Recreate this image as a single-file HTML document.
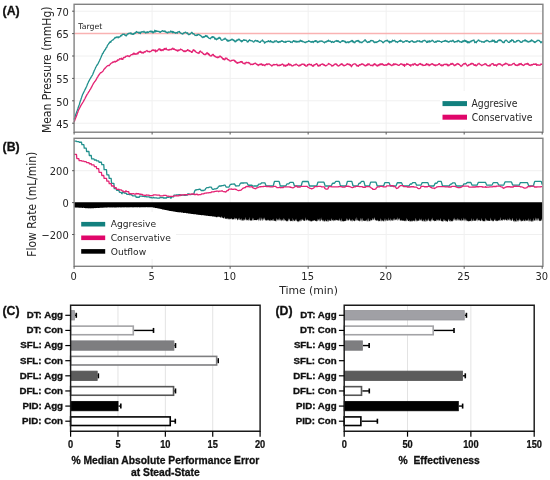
<!DOCTYPE html>
<html><head><meta charset="utf-8"><title>Figure</title>
<style>html,body{margin:0;padding:0;background:#fff;}body{width:550px;height:480px;overflow:hidden;}svg{display:block;}</style>
</head><body>
<svg width="550" height="480" viewBox="0 0 550 480">
<rect width="550" height="480" fill="#fff"/>
<g>
<line x1="74.1" x2="542.2" y1="123.20" y2="123.20" stroke="#f0f0f0" stroke-width="1"/>
<line x1="74.1" x2="542.2" y1="100.80" y2="100.80" stroke="#f0f0f0" stroke-width="1"/>
<line x1="74.1" x2="542.2" y1="78.40" y2="78.40" stroke="#f0f0f0" stroke-width="1"/>
<line x1="74.1" x2="542.2" y1="56.00" y2="56.00" stroke="#f0f0f0" stroke-width="1"/>
<line x1="74.1" x2="542.2" y1="11.20" y2="11.20" stroke="#f0f0f0" stroke-width="1"/>
<line x1="152.12" x2="152.12" y1="4.3" y2="132.2" stroke="#f0f0f0" stroke-width="1"/>
<line x1="230.13" x2="230.13" y1="4.3" y2="132.2" stroke="#f0f0f0" stroke-width="1"/>
<line x1="308.15" x2="308.15" y1="4.3" y2="132.2" stroke="#f0f0f0" stroke-width="1"/>
<line x1="386.17" x2="386.17" y1="4.3" y2="132.2" stroke="#f0f0f0" stroke-width="1"/>
<line x1="464.18" x2="464.18" y1="4.3" y2="132.2" stroke="#f0f0f0" stroke-width="1"/>
<line x1="74.1" x2="542.2" y1="33.60" y2="33.60" stroke="#f9b2b2" stroke-width="1.5"/>
<text x="78.2" y="29.2" font-family="DejaVu Sans" font-size="7.8" fill="#1a1a1a">Target</text>
<path d="M74.10 119.58L74.49 118.25L74.88 117.19L75.27 116.00L75.66 114.72L76.05 113.70L76.44 112.61L76.83 111.50L77.22 110.52L77.61 109.44L78.00 108.29L78.39 107.04L78.78 105.94L79.17 104.88L79.56 103.62L79.95 102.30L80.34 100.98L80.73 100.06L81.12 98.77L81.51 97.67L81.90 96.45L82.29 95.39L82.68 94.27L83.07 93.66L83.46 92.91L83.85 92.09L84.24 91.27L84.63 90.51L85.02 89.57L85.41 88.84L85.80 88.22L86.19 87.23L86.58 86.49L86.97 85.52L87.36 84.37L87.75 83.50L88.14 82.80L88.53 81.71L88.92 81.15L89.31 80.42L89.70 79.53L90.09 78.89L90.48 78.29L90.87 77.59L91.26 76.92L91.65 76.30L92.04 75.60L92.43 75.07L92.82 74.21L93.21 73.10L93.60 72.36L93.99 71.32L94.38 70.27L94.77 69.62L95.16 68.68L95.55 67.63L95.94 67.10L96.33 66.25L96.72 65.55L97.11 65.00L97.50 64.49L97.90 63.96L98.29 63.28L98.68 62.28L99.07 61.53L99.46 60.83L99.85 59.78L100.24 59.09L100.63 57.98L101.02 57.22L101.41 56.22L101.80 55.35L102.19 54.55L102.58 53.29L102.97 53.37L103.36 52.47L103.75 51.64L104.14 51.04L104.53 50.66L104.92 49.62L105.31 49.58L105.70 48.91L106.09 47.76L106.48 47.58L106.87 47.18L107.26 45.78L107.65 45.20L108.04 44.54L108.43 44.14L108.82 43.39L109.21 43.18L109.60 42.18L109.99 42.09L110.38 41.80L110.77 42.30L111.16 41.17L111.55 40.72L111.94 40.47L112.33 40.15L112.72 39.99L113.11 39.89L113.50 39.31L113.89 39.02L114.28 38.59L114.67 38.24L115.06 37.36L115.45 37.91L115.84 37.41L116.23 37.48L116.62 37.00L117.01 36.86L117.40 36.98L117.79 37.17L118.18 37.89L118.57 36.84L118.96 37.16L119.35 37.15L119.74 36.80L120.13 36.64L120.52 35.95L120.91 35.41L121.30 35.38L121.69 35.92L122.08 34.74L122.47 34.33L122.86 34.19L123.25 34.30L123.64 34.24L124.03 34.14L124.42 34.78L124.81 34.29L125.20 35.63L125.59 35.46L125.98 35.35L126.37 35.79L126.76 35.17L127.15 34.19L127.54 34.01L127.93 34.11L128.32 33.35L128.71 33.69L129.10 33.56L129.49 33.13L129.88 33.18L130.27 32.91L130.66 33.79L131.05 33.03L131.44 33.79L131.83 33.53L132.22 34.43L132.61 34.18L133.00 33.99L133.39 33.65L133.78 34.32L134.17 33.15L134.56 33.20L134.95 33.39L135.34 32.46L135.73 32.80L136.12 32.16L136.51 31.47L136.90 31.91L137.29 32.32L137.68 32.31L138.07 32.10L138.46 32.42L138.85 33.14L139.24 33.16L139.63 32.66L140.02 32.00L140.41 33.69L140.80 32.31L141.19 32.44L141.58 31.83L141.97 31.73L142.36 31.75L142.75 32.01L143.14 32.09L143.53 32.21L143.92 31.22L144.31 31.92L144.71 32.25L145.10 32.26L145.49 33.00L145.88 32.46L146.27 32.07L146.66 32.08L147.05 32.90L147.44 31.79L147.83 32.33L148.22 32.57L148.61 32.01L149.00 31.73L149.39 31.39L149.78 31.68L150.17 31.83L150.56 31.46L150.95 30.81L151.34 31.97L151.73 31.64L152.12 32.09L152.51 31.32L152.90 32.94L153.29 31.78L153.68 32.53L154.07 32.11L154.46 31.83L154.85 30.28L155.24 31.58L155.63 31.85L156.02 30.60L156.41 31.35L156.80 31.17L157.19 31.16L157.58 31.25L157.97 31.41L158.36 31.40L158.75 31.52L159.14 31.48L159.53 32.06L159.92 32.23L160.31 32.32L160.70 31.63L161.09 31.72L161.48 31.36L161.87 31.21L162.26 30.74L162.65 31.06L163.04 30.82L163.43 31.46L163.82 31.35L164.21 31.12L164.60 31.54L164.99 30.90L165.38 31.83L165.77 31.58L166.16 32.59L166.55 32.39L166.94 32.26L167.33 32.32L167.72 32.98L168.11 32.33L168.50 31.97L168.89 32.08L169.28 32.25L169.67 32.10L170.06 32.28L170.45 31.41L170.84 31.02L171.23 31.66L171.62 32.10L172.01 31.51L172.40 31.51L172.79 32.89L173.18 32.18L173.57 31.65L173.96 32.28L174.35 32.57L174.74 32.74L175.13 32.53L175.52 33.23L175.91 33.05L176.30 32.59L176.69 32.90L177.08 32.36L177.47 33.08L177.86 31.93L178.25 31.75L178.64 31.93L179.03 31.90L179.42 31.44L179.81 32.58L180.20 32.52L180.59 33.13L180.98 33.09L181.37 33.48L181.76 33.36L182.15 33.71L182.54 34.04L182.93 34.05L183.32 32.87L183.71 33.18L184.10 33.06L184.49 32.70L184.88 32.65L185.27 32.20L185.66 32.24L186.05 32.70L186.44 32.85L186.83 33.10L187.22 33.31L187.61 32.76L188.00 33.91L188.39 34.66L188.78 34.44L189.17 34.51L189.56 34.13L189.95 34.43L190.34 33.54L190.73 33.43L191.12 33.01L191.52 32.56L191.91 32.27L192.30 32.83L192.69 33.81L193.08 33.71L193.47 33.90L193.86 33.62L194.25 34.53L194.64 34.77L195.03 35.47L195.42 35.31L195.81 35.27L196.20 35.66L196.59 35.10L196.98 34.81L197.37 35.23L197.76 34.60L198.15 34.38L198.54 34.68L198.93 34.69L199.32 34.89L199.71 35.13L200.10 35.06L200.49 35.55L200.88 35.75L201.27 36.18L201.66 36.83L202.05 36.94L202.44 36.91L202.83 37.67L203.22 37.51L203.61 36.55L204.00 36.72L204.39 37.06L204.78 36.36L205.17 36.54L205.56 35.51L205.95 36.36L206.34 36.16L206.73 35.79L207.12 36.89L207.51 36.28L207.90 37.34L208.29 37.38L208.68 38.03L209.07 38.25L209.46 38.31L209.85 38.49L210.24 38.78L210.63 37.95L211.02 37.99L211.41 37.39L211.80 37.00L212.19 37.63L212.58 36.58L212.97 36.55L213.36 37.30L213.75 37.01L214.14 37.13L214.53 38.35L214.92 39.20L215.31 39.07L215.70 38.20L216.09 39.25L216.48 39.69L216.87 39.07L217.26 39.24L217.65 38.66L218.04 38.07L218.43 38.67L218.82 37.65L219.21 37.31L219.60 38.17L219.99 38.39L220.38 38.04L220.77 39.37L221.16 39.93L221.55 40.25L221.94 40.12L222.33 40.05L222.72 40.08L223.11 39.64L223.50 39.08L223.89 39.04L224.28 39.24L224.67 38.84L225.06 38.14L225.45 39.08L225.84 38.96L226.23 39.43L226.62 39.88L227.01 40.60L227.40 41.02L227.79 39.85L228.18 40.48L228.57 41.18L228.96 40.88L229.35 40.52L229.74 40.53L230.13 40.07L230.52 40.26L230.91 39.90L231.30 39.27L231.69 39.37L232.08 39.99L232.47 39.26L232.86 39.48L233.25 39.95L233.64 40.69L234.03 40.22L234.42 40.73L234.81 41.59L235.20 41.93L235.59 41.04L235.98 41.55L236.37 40.60L236.76 40.01L237.15 40.52L237.54 40.21L237.94 39.71L238.33 39.27L238.72 39.87L239.11 39.11L239.50 39.46L239.89 39.85L240.28 40.80L240.67 40.55L241.06 40.91L241.45 41.88L241.84 40.71L242.23 41.46L242.62 40.75L243.01 40.71L243.40 40.10L243.79 39.64L244.18 40.11L244.57 40.37L244.96 39.97L245.35 40.35L245.74 40.30L246.13 40.25L246.52 40.72L246.91 40.78L247.30 41.96L247.69 41.61L248.08 41.93L248.47 41.15L248.86 40.41L249.25 40.59L249.64 39.72L250.03 40.36L250.42 40.68L250.81 40.60L251.20 40.80L251.59 40.77L251.98 40.83L252.37 40.92L252.76 41.38L253.15 41.76L253.54 42.06L253.93 42.00L254.32 41.27L254.71 40.84L255.10 40.60L255.49 40.36L255.88 40.46L256.27 41.15L256.66 40.98L257.05 41.12L257.44 40.57L257.83 41.53L258.22 41.44L258.61 41.26L259.00 41.92L259.39 42.33L259.78 42.28L260.17 42.40L260.56 41.64L260.95 41.15L261.34 41.10L261.73 40.72L262.12 40.50L262.51 40.00L262.90 41.22L263.29 41.18L263.68 41.38L264.07 41.57L264.46 43.04L264.85 42.41L265.24 42.31L265.63 42.55L266.02 41.64L266.41 41.59L266.80 41.53L267.19 41.78L267.58 41.43L267.97 41.31L268.36 40.70L268.75 41.31L269.14 41.66L269.53 41.77L269.92 41.56L270.31 40.88L270.70 40.70L271.09 42.13L271.48 41.74L271.87 41.73L272.26 41.79L272.65 42.18L273.04 42.55L273.43 42.12L273.82 42.21L274.21 41.36L274.60 41.04L274.99 41.83L275.38 41.04L275.77 40.93L276.16 40.74L276.55 40.79L276.94 41.30L277.33 42.12L277.72 42.06L278.11 41.77L278.50 42.46L278.89 42.20L279.28 41.47L279.67 41.65L280.06 42.11L280.45 41.70L280.84 41.28L281.23 41.42L281.62 40.81L282.01 40.64L282.40 41.31L282.79 41.28L283.18 41.28L283.57 42.02L283.96 41.77L284.35 42.20L284.75 41.93L285.14 42.39L285.53 42.44L285.92 41.26L286.31 42.04L286.70 41.63L287.09 41.48L287.48 41.27L287.87 41.43L288.26 41.17L288.65 41.46L289.04 41.47L289.43 41.30L289.82 41.24L290.21 41.62L290.60 42.31L290.99 42.03L291.38 42.21L291.77 42.13L292.16 42.55L292.55 41.57L292.94 41.58L293.33 40.66L293.72 40.89L294.11 41.50L294.50 41.63L294.89 40.82L295.28 41.85L295.67 41.51L296.06 41.89L296.45 41.23L296.84 42.13L297.23 41.59L297.62 41.50L298.01 41.97L298.40 41.90L298.79 41.21L299.18 41.65L299.57 41.78L299.96 40.84L300.35 40.20L300.74 41.10L301.13 40.64L301.52 41.31L301.91 40.87L302.30 41.71L302.69 41.26L303.08 41.50L303.47 41.86L303.86 41.89L304.25 42.10L304.64 42.44L305.03 42.50L305.42 42.16L305.81 42.53L306.20 41.98L306.59 41.89L306.98 41.68L307.37 41.80L307.76 41.54L308.15 41.44L308.54 40.72L308.93 41.31L309.32 41.19L309.71 41.26L310.10 41.57L310.49 42.00L310.88 42.12L311.27 41.60L311.66 42.30L312.05 41.83L312.44 41.41L312.83 41.58L313.22 42.63L313.61 41.51L314.00 41.31L314.39 41.09L314.78 41.65L315.17 40.70L315.56 41.40L315.95 40.80L316.34 41.17L316.73 40.83L317.12 42.03L317.51 42.56L317.90 41.79L318.29 41.89L318.68 42.14L319.07 41.13L319.46 41.15L319.85 41.67L320.24 41.08L320.63 41.10L321.02 40.95L321.41 40.94L321.80 41.35L322.19 41.32L322.58 41.23L322.97 41.79L323.36 42.10L323.75 42.29L324.14 42.28L324.53 42.87L324.92 41.88L325.31 42.15L325.70 41.66L326.09 42.17L326.48 41.24L326.87 41.29L327.26 41.53L327.65 40.80L328.04 41.11L328.43 40.19L328.82 40.70L329.21 41.28L329.60 41.06L329.99 41.23L330.38 41.00L330.77 41.70L331.16 41.65L331.56 42.45L331.95 41.78L332.34 41.49L332.73 42.07L333.12 42.32L333.51 42.24L333.90 42.36L334.29 41.68L334.68 41.70L335.07 41.04L335.46 41.18L335.85 41.11L336.24 40.53L336.63 41.26L337.02 40.84L337.41 41.52L337.80 40.59L338.19 40.96L338.58 41.54L338.97 41.49L339.36 42.06L339.75 42.18L340.14 42.52L340.53 42.45L340.92 41.79L341.31 41.51L341.70 41.29L342.09 40.66L342.48 40.74L342.87 41.28L343.26 40.75L343.65 40.99L344.04 41.04L344.43 41.74L344.82 41.20L345.21 41.34L345.60 42.59L345.99 42.04L346.38 42.10L346.77 42.79L347.16 42.39L347.55 41.88L347.94 42.12L348.33 41.85L348.72 42.77L349.11 42.39L349.50 41.81L349.89 41.59L350.28 41.72L350.67 41.22L351.06 41.08L351.45 40.83L351.84 40.49L352.23 41.86L352.62 40.51L353.01 41.63L353.40 42.12L353.79 41.79L354.18 42.76L354.57 42.31L354.96 42.57L355.35 41.83L355.74 41.50L356.13 40.79L356.52 41.22L356.91 40.97L357.30 40.70L357.69 41.11L358.08 40.34L358.47 40.73L358.86 41.73L359.25 41.17L359.64 41.51L360.03 42.68L360.42 42.12L360.81 42.03L361.20 42.15L361.59 42.74L361.98 42.59L362.37 42.07L362.76 41.89L363.15 41.45L363.54 41.21L363.93 40.81L364.32 40.84L364.71 40.57L365.10 39.59L365.49 40.96L365.88 40.78L366.27 41.23L366.66 41.43L367.05 42.26L367.44 42.16L367.83 42.50L368.22 42.19L368.61 41.65L369.00 42.07L369.39 41.76L369.78 42.04L370.17 41.23L370.56 40.46L370.95 40.80L371.34 40.80L371.73 40.44L372.12 40.58L372.51 40.77L372.90 41.11L373.29 40.88L373.68 42.10L374.07 42.00L374.46 42.46L374.85 42.01L375.24 42.56L375.63 41.97L376.02 42.24L376.41 42.26L376.80 42.55L377.19 41.59L377.58 41.54L377.97 41.58L378.37 41.45L378.76 41.01L379.15 41.12L379.54 40.19L379.93 40.46L380.32 40.75L380.71 40.90L381.10 41.00L381.49 41.40L381.88 41.36L382.27 41.79L382.66 42.49L383.05 42.79L383.44 42.41L383.83 42.22L384.22 41.64L384.61 41.36L385.00 41.21L385.39 40.79L385.78 40.78L386.17 40.40L386.56 40.88L386.95 40.59L387.34 40.28L387.73 40.60L388.12 41.43L388.51 41.71L388.90 42.05L389.29 41.22L389.68 42.82L390.07 42.36L390.46 41.67L390.85 41.88L391.24 41.59L391.63 41.97L392.02 41.24L392.41 40.23L392.80 41.05L393.19 40.71L393.58 40.81L393.97 40.62L394.36 40.54L394.75 40.29L395.14 41.30L395.53 41.91L395.92 41.65L396.31 41.83L396.70 41.67L397.09 42.00L397.48 42.44L397.87 41.85L398.26 41.56L398.65 41.55L399.04 41.31L399.43 40.64L399.82 40.96L400.21 41.36L400.60 40.19L400.99 41.16L401.38 40.96L401.77 41.04L402.16 41.45L402.55 41.70L402.94 42.45L403.33 41.94L403.72 42.16L404.11 41.95L404.50 41.51L404.89 41.26L405.28 41.17L405.67 40.77L406.06 40.94L406.45 41.38L406.84 40.65L407.23 40.76L407.62 40.89L408.01 41.35L408.40 41.85L408.79 41.63L409.18 41.69L409.57 42.42L409.96 41.66L410.35 41.73L410.74 41.50L411.13 40.81L411.52 40.87L411.91 40.98L412.30 40.79L412.69 41.66L413.08 41.51L413.47 41.84L413.86 42.27L414.25 41.80L414.64 41.85L415.03 42.26L415.42 42.11L415.81 41.70L416.20 41.46L416.59 41.88L416.98 41.11L417.37 40.78L417.76 40.99L418.15 41.13L418.54 41.09L418.93 40.96L419.32 41.46L419.71 40.71L420.10 41.92L420.49 41.70L420.88 41.94L421.27 41.74L421.66 42.02L422.05 42.21L422.44 41.01L422.83 41.21L423.22 40.95L423.61 40.81L424.00 40.43L424.39 40.58L424.78 40.46L425.17 40.63L425.57 41.05L425.96 41.13L426.35 41.76L426.74 42.47L427.13 41.89L427.52 42.30L427.91 41.00L428.30 41.40L428.69 41.45L429.08 42.02L429.47 40.77L429.86 41.95L430.25 41.68L430.64 41.36L431.03 41.25L431.42 40.84L431.81 40.80L432.20 40.19L432.59 40.67L432.98 40.77L433.37 41.21L433.76 41.70L434.15 41.96L434.54 42.37L434.93 42.24L435.32 42.02L435.71 41.41L436.10 42.09L436.49 41.84L436.88 41.10L437.27 41.39L437.66 40.80L438.05 41.02L438.44 41.13L438.83 41.34L439.22 40.96L439.61 41.34L440.00 41.54L440.39 41.58L440.78 41.55L441.17 41.72L441.56 42.43L441.95 41.97L442.34 41.76L442.73 41.42L443.12 41.29L443.51 41.21L443.90 41.44L444.29 41.18L444.68 40.57L445.07 41.10L445.46 40.47L445.85 40.43L446.24 41.44L446.63 41.16L447.02 41.56L447.41 41.10L447.80 41.59L448.19 42.12L448.58 41.75L448.97 42.15L449.36 41.68L449.75 41.40L450.14 41.13L450.53 40.98L450.92 41.25L451.31 41.52L451.70 40.92L452.09 41.11L452.48 41.07L452.87 40.21L453.26 40.63L453.65 41.22L454.04 41.97L454.43 42.21L454.82 41.79L455.21 41.58L455.60 41.90L455.99 41.67L456.38 41.49L456.77 41.08L457.16 41.82L457.55 40.87L457.94 40.60L458.33 40.41L458.72 40.70L459.11 41.34L459.50 41.26L459.89 42.06L460.28 41.74L460.67 41.90L461.06 41.82L461.45 42.32L461.84 42.29L462.23 41.19L462.62 41.69L463.01 40.91L463.40 41.18L463.79 41.58L464.18 40.55L464.57 40.23L464.96 40.83L465.35 41.49L465.74 40.53L466.13 40.90L466.52 41.17L466.91 42.34L467.30 41.44L467.69 42.88L468.08 42.29L468.47 41.75L468.86 42.72L469.25 42.73L469.64 42.19L470.03 41.42L470.42 41.27L470.81 41.88L471.20 40.99L471.59 40.99L471.99 40.61L472.38 40.46L472.77 40.83L473.16 40.40L473.55 40.47L473.94 40.06L474.33 40.99L474.72 42.60L475.11 42.43L475.50 42.01L475.89 42.08L476.28 42.71L476.67 41.69L477.06 41.50L477.45 41.03L477.84 40.73L478.23 40.17L478.62 39.97L479.01 40.30L479.40 41.06L479.79 41.17L480.18 41.07L480.57 41.12L480.96 41.16L481.35 41.48L481.74 42.07L482.13 41.70L482.52 41.80L482.91 41.84L483.30 42.17L483.69 41.92L484.08 42.31L484.47 42.20L484.86 41.71L485.25 40.85L485.64 41.10L486.03 41.23L486.42 40.47L486.81 40.26L487.20 40.42L487.59 40.76L487.98 40.84L488.37 41.10L488.76 41.43L489.15 41.86L489.54 41.92L489.93 41.56L490.32 41.45L490.71 41.60L491.10 41.72L491.49 41.16L491.88 40.83L492.27 40.09L492.66 41.43L493.05 40.26L493.44 41.16L493.83 40.56L494.22 40.29L494.61 41.67L495.00 42.53L495.39 41.50L495.78 41.54L496.17 42.02L496.56 41.81L496.95 42.38L497.34 41.50L497.73 40.71L498.12 40.88L498.51 40.72L498.90 40.00L499.29 39.93L499.68 40.58L500.07 39.89L500.46 40.35L500.85 40.62L501.24 40.49L501.63 40.97L502.02 41.33L502.41 42.19L502.80 41.86L503.19 42.65L503.58 42.29L503.97 42.63L504.36 42.38L504.75 41.01L505.14 40.98L505.53 40.46L505.92 40.16L506.31 40.16L506.70 40.67L507.09 40.79L507.48 41.34L507.87 41.80L508.26 42.12L508.65 42.35L509.04 42.49L509.43 42.30L509.82 41.88L510.21 40.77L510.60 41.53L510.99 40.63L511.38 40.99L511.77 39.73L512.16 40.42L512.55 40.32L512.94 40.24L513.33 40.70L513.72 42.03L514.11 41.58L514.50 42.13L514.89 41.92L515.28 42.18L515.67 41.87L516.06 41.81L516.45 41.52L516.84 40.63L517.23 41.11L517.62 40.53L518.01 40.68L518.40 40.36L518.79 40.56L519.19 40.57L519.58 41.06L519.97 41.44L520.36 42.27L520.75 41.94L521.14 42.02L521.53 42.41L521.92 42.20L522.31 42.01L522.70 40.86L523.09 40.99L523.48 40.84L523.87 41.00L524.26 40.59L524.65 40.70L525.04 39.78L525.43 40.99L525.82 40.38L526.21 40.51L526.60 40.74L526.99 41.61L527.38 41.62L527.77 41.24L528.16 42.15L528.55 41.81L528.94 41.86L529.33 41.61L529.72 41.14L530.11 41.56L530.50 41.21L530.89 40.34L531.28 40.96L531.67 39.81L532.06 40.60L532.45 40.66L532.84 41.16L533.23 40.96L533.62 41.63L534.01 41.88L534.40 42.47L534.79 41.64L535.18 42.52L535.57 41.81L535.96 41.70L536.35 41.50L536.74 41.47L537.13 40.43L537.52 40.30L537.91 40.45L538.30 40.33L538.69 40.50L539.08 40.32L539.47 41.11L539.86 41.10L540.25 41.51L540.64 42.26L541.03 42.74L541.42 41.95L541.81 42.04L542.20 41.48" fill="none" stroke="#21908d" stroke-width="1.3" stroke-linejoin="round"/>
<path d="M74.10 121.99L74.49 121.12L74.88 120.06L75.27 118.84L75.66 117.97L76.05 116.93L76.44 115.96L76.83 114.98L77.22 113.83L77.61 112.63L78.00 111.68L78.39 110.39L78.78 109.57L79.17 108.89L79.56 108.06L79.95 107.41L80.34 106.63L80.73 105.85L81.12 105.19L81.51 104.40L81.90 104.02L82.29 103.31L82.68 102.72L83.07 102.04L83.46 101.24L83.85 100.75L84.24 99.78L84.63 99.18L85.02 98.45L85.41 97.62L85.80 96.94L86.19 96.09L86.58 95.37L86.97 94.68L87.36 94.03L87.75 93.52L88.14 92.81L88.53 92.16L88.92 91.51L89.31 91.07L89.70 90.21L90.09 89.61L90.48 89.12L90.87 88.40L91.26 87.50L91.65 87.00L92.04 86.15L92.43 85.28L92.82 84.63L93.21 83.90L93.60 83.21L93.99 82.73L94.38 82.12L94.77 81.29L95.16 81.24L95.55 80.62L95.94 80.00L96.33 79.45L96.72 78.48L97.11 77.95L97.50 77.06L97.90 76.86L98.29 75.69L98.68 75.14L99.07 74.92L99.46 74.10L99.85 73.81L100.24 73.23L100.63 72.69L101.02 72.63L101.41 72.59L101.80 72.08L102.19 71.92L102.58 71.47L102.97 71.03L103.36 70.55L103.75 69.70L104.14 69.13L104.53 68.95L104.92 68.05L105.31 68.18L105.70 67.57L106.09 67.06L106.48 66.46L106.87 66.26L107.26 66.08L107.65 65.64L108.04 65.60L108.43 65.36L108.82 65.60L109.21 65.62L109.60 65.01L109.99 64.36L110.38 64.11L110.77 63.58L111.16 63.28L111.55 63.01L111.94 62.64L112.33 62.73L112.72 62.01L113.11 62.32L113.50 61.84L113.89 61.99L114.28 61.39L114.67 61.93L115.06 61.31L115.45 62.02L115.84 61.48L116.23 61.44L116.62 61.43L117.01 60.49L117.40 60.70L117.79 59.79L118.18 60.32L118.57 59.86L118.96 59.93L119.35 58.97L119.74 58.67L120.13 58.83L120.52 58.93L120.91 59.12L121.30 58.12L121.69 58.61L122.08 59.43L122.47 58.86L122.86 59.42L123.25 57.86L123.64 57.48L124.03 57.42L124.42 57.63L124.81 57.47L125.20 57.33L125.59 56.30L125.98 56.52L126.37 56.23L126.76 56.21L127.15 56.22L127.54 55.83L127.93 55.63L128.32 56.16L128.71 56.18L129.10 56.56L129.49 56.49L129.88 56.24L130.27 55.39L130.66 55.31L131.05 54.82L131.44 54.55L131.83 54.59L132.22 54.64L132.61 54.20L133.00 54.49L133.39 53.20L133.78 53.81L134.17 54.09L134.56 53.30L134.95 54.26L135.34 54.01L135.73 54.26L136.12 53.95L136.51 54.08L136.90 53.60L137.29 53.03L137.68 53.88L138.07 53.86L138.46 52.28L138.85 52.43L139.24 51.86L139.63 52.09L140.02 51.36L140.41 51.26L140.80 52.45L141.19 51.95L141.58 52.49L141.97 53.07L142.36 52.71L142.75 52.35L143.14 53.05L143.53 52.97L143.92 51.88L144.31 52.04L144.71 51.75L145.10 52.14L145.49 51.70L145.88 51.21L146.27 50.97L146.66 50.96L147.05 50.47L147.44 51.15L147.83 51.72L148.22 51.67L148.61 51.61L149.00 51.23L149.39 51.97L149.78 51.87L150.17 51.53L150.56 51.54L150.95 51.42L151.34 50.80L151.73 50.27L152.12 50.19L152.51 50.33L152.90 49.99L153.29 50.58L153.68 49.92L154.07 50.20L154.46 50.36L154.85 51.03L155.24 49.85L155.63 51.90L156.02 51.28L156.41 51.23L156.80 50.55L157.19 51.11L157.58 50.18L157.97 50.00L158.36 49.86L158.75 49.11L159.14 48.73L159.53 49.05L159.92 49.49L160.31 50.47L160.70 49.25L161.09 49.88L161.48 50.68L161.87 50.11L162.26 49.69L162.65 50.27L163.04 50.56L163.43 49.21L163.82 49.63L164.21 49.14L164.60 48.50L164.99 49.55L165.38 48.81L165.77 49.02L166.16 48.12L166.55 49.38L166.94 49.54L167.33 49.95L167.72 49.81L168.11 49.90L168.50 49.93L168.89 50.21L169.28 49.38L169.67 49.85L170.06 49.71L170.45 49.40L170.84 49.47L171.23 49.50L171.62 49.60L172.01 48.59L172.40 48.94L172.79 48.07L173.18 48.84L173.57 49.41L173.96 48.90L174.35 48.93L174.74 49.63L175.13 49.72L175.52 50.03L175.91 49.58L176.30 50.32L176.69 50.52L177.08 50.77L177.47 51.14L177.86 49.95L178.25 50.00L178.64 50.74L179.03 50.05L179.42 49.98L179.81 50.00L180.20 49.70L180.59 48.98L180.98 49.65L181.37 49.50L181.76 49.64L182.15 49.85L182.54 50.49L182.93 50.74L183.32 50.76L183.71 51.53L184.10 51.20L184.49 51.48L184.88 50.71L185.27 51.66L185.66 51.24L186.05 50.80L186.44 51.02L186.83 50.66L187.22 50.40L187.61 49.68L188.00 50.22L188.39 50.04L188.78 50.34L189.17 51.24L189.56 50.81L189.95 51.16L190.34 51.14L190.73 51.37L191.12 51.83L191.52 52.36L191.91 51.60L192.30 52.15L192.69 51.30L193.08 49.93L193.47 50.40L193.86 49.74L194.25 50.39L194.64 50.56L195.03 51.39L195.42 51.06L195.81 51.99L196.20 52.16L196.59 52.50L196.98 52.62L197.37 52.82L197.76 53.06L198.15 53.08L198.54 52.95L198.93 53.48L199.32 52.24L199.71 51.33L200.10 51.61L200.49 50.99L200.88 51.68L201.27 52.29L201.66 52.49L202.05 52.22L202.44 52.90L202.83 53.47L203.22 53.30L203.61 54.24L204.00 54.18L204.39 54.69L204.78 54.62L205.17 54.28L205.56 54.63L205.95 53.74L206.34 53.48L206.73 53.72L207.12 52.51L207.51 53.84L207.90 53.50L208.29 53.38L208.68 54.77L209.07 54.13L209.46 54.63L209.85 55.70L210.24 55.87L210.63 55.96L211.02 56.04L211.41 55.24L211.80 55.70L212.19 55.09L212.58 54.60L212.97 54.35L213.36 54.39L213.75 55.62L214.14 56.04L214.53 55.78L214.92 56.10L215.31 56.93L215.70 56.76L216.09 56.99L216.48 57.28L216.87 56.90L217.26 57.73L217.65 57.42L218.04 56.83L218.43 57.10L218.82 57.51L219.21 56.73L219.60 56.40L219.99 55.92L220.38 56.37L220.77 56.29L221.16 57.38L221.55 57.50L221.94 57.27L222.33 58.47L222.72 58.51L223.11 59.63L223.50 58.61L223.89 59.38L224.28 59.22L224.67 59.76L225.06 59.43L225.45 58.02L225.84 58.65L226.23 58.48L226.62 58.10L227.01 58.36L227.40 59.67L227.79 59.59L228.18 59.56L228.57 59.86L228.96 59.97L229.35 60.75L229.74 60.96L230.13 60.89L230.52 61.10L230.91 60.98L231.30 60.81L231.69 60.34L232.08 60.23L232.47 60.30L232.86 60.29L233.25 60.18L233.64 60.11L234.03 60.20L234.42 61.01L234.81 60.56L235.20 61.81L235.59 61.45L235.98 62.26L236.37 62.06L236.76 62.15L237.15 63.45L237.54 62.64L237.94 62.76L238.33 62.90L238.72 62.45L239.11 62.59L239.50 62.30L239.89 62.59L240.28 61.72L240.67 61.64L241.06 61.57L241.45 62.25L241.84 61.54L242.23 61.79L242.62 62.83L243.01 63.20L243.40 63.56L243.79 63.29L244.18 63.19L244.57 63.65L244.96 64.03L245.35 62.80L245.74 62.84L246.13 62.39L246.52 62.25L246.91 62.88L247.30 62.51L247.69 62.71L248.08 62.59L248.47 62.42L248.86 62.99L249.25 63.49L249.64 62.99L250.03 63.61L250.42 64.02L250.81 64.76L251.20 64.53L251.59 64.22L251.98 64.13L252.37 64.56L252.76 64.13L253.15 64.40L253.54 64.21L253.93 63.61L254.32 63.70L254.71 63.44L255.10 63.10L255.49 63.04L255.88 63.77L256.27 63.87L256.66 64.46L257.05 64.59L257.44 64.42L257.83 64.94L258.22 65.59L258.61 64.72L259.00 65.06L259.39 64.75L259.78 64.29L260.17 64.05L260.56 64.13L260.95 64.73L261.34 63.79L261.73 64.27L262.12 64.75L262.51 65.33L262.90 64.35L263.29 64.98L263.68 65.10L264.07 64.96L264.46 65.23L264.85 65.72L265.24 64.82L265.63 64.57L266.02 64.67L266.41 64.06L266.80 63.81L267.19 64.68L267.58 64.43L267.97 63.88L268.36 64.15L268.75 64.14L269.14 63.94L269.53 64.12L269.92 64.64L270.31 64.59L270.70 65.22L271.09 65.19L271.48 65.70L271.87 66.08L272.26 65.54L272.65 65.46L273.04 64.81L273.43 64.45L273.82 64.91L274.21 64.49L274.60 64.77L274.99 64.79L275.38 64.53L275.77 64.54L276.16 64.49L276.55 64.73L276.94 64.31L277.33 65.05L277.72 65.78L278.11 65.33L278.50 65.65L278.89 65.43L279.28 65.04L279.67 65.61L280.06 65.30L280.45 64.94L280.84 65.24L281.23 64.65L281.62 64.48L282.01 64.17L282.40 64.02L282.79 64.31L283.18 64.62L283.57 65.44L283.96 66.13L284.35 65.74L284.75 64.99L285.14 65.46L285.53 66.26L285.92 65.48L286.31 65.09L286.70 65.74L287.09 64.85L287.48 65.25L287.87 64.35L288.26 64.57L288.65 63.34L289.04 64.85L289.43 64.36L289.82 65.16L290.21 64.29L290.60 64.88L290.99 64.75L291.38 65.28L291.77 65.84L292.16 65.73L292.55 65.98L292.94 65.91L293.33 65.47L293.72 65.09L294.11 65.02L294.50 64.82L294.89 65.00L295.28 64.44L295.67 64.71L296.06 64.23L296.45 64.08L296.84 64.65L297.23 64.97L297.62 65.33L298.01 65.26L298.40 65.67L298.79 66.08L299.18 65.71L299.57 65.86L299.96 64.86L300.35 65.21L300.74 65.55L301.13 64.70L301.52 64.31L301.91 64.21L302.30 64.37L302.69 64.18L303.08 64.15L303.47 64.11L303.86 64.72L304.25 64.25L304.64 65.44L305.03 64.88L305.42 65.47L305.81 66.20L306.20 66.03L306.59 66.21L306.98 66.08L307.37 64.64L307.76 65.26L308.15 64.46L308.54 64.70L308.93 64.23L309.32 64.52L309.71 64.05L310.10 64.55L310.49 64.84L310.88 64.99L311.27 64.35L311.66 65.08L312.05 65.30L312.44 66.13L312.83 65.93L313.22 65.57L313.61 66.17L314.00 64.75L314.39 65.04L314.78 64.85L315.17 64.59L315.56 64.32L315.95 64.27L316.34 63.58L316.73 63.94L317.12 63.97L317.51 65.05L317.90 65.88L318.29 65.22L318.68 66.17L319.07 65.90L319.46 65.28L319.85 64.95L320.24 65.65L320.63 64.72L321.02 64.38L321.41 64.34L321.80 64.43L322.19 63.81L322.58 64.19L322.97 64.14L323.36 64.93L323.75 64.46L324.14 65.33L324.53 64.83L324.92 65.36L325.31 65.88L325.70 65.72L326.09 65.73L326.48 65.61L326.87 65.15L327.26 64.97L327.65 64.76L328.04 64.53L328.43 63.40L328.82 63.87L329.21 63.96L329.60 63.83L329.99 64.38L330.38 64.70L330.77 64.76L331.16 64.96L331.56 65.30L331.95 66.21L332.34 65.80L332.73 65.65L333.12 65.36L333.51 65.66L333.90 65.07L334.29 64.21L334.68 64.28L335.07 64.29L335.46 63.97L335.85 63.79L336.24 64.45L336.63 64.16L337.02 65.14L337.41 65.02L337.80 65.69L338.19 66.11L338.58 65.98L338.97 65.87L339.36 65.40L339.75 65.46L340.14 64.39L340.53 64.67L340.92 64.58L341.31 63.97L341.70 63.73L342.09 64.25L342.48 64.06L342.87 65.11L343.26 65.56L343.65 65.07L344.04 65.81L344.43 65.62L344.82 65.49L345.21 65.38L345.60 65.31L345.99 65.07L346.38 64.28L346.77 64.48L347.16 64.06L347.55 63.62L347.94 64.12L348.33 64.53L348.72 64.06L349.11 64.05L349.50 64.29L349.89 65.39L350.28 64.83L350.67 64.65L351.06 66.09L351.45 66.75L351.84 65.83L352.23 65.50L352.62 64.84L353.01 64.48L353.40 64.37L353.79 64.01L354.18 63.85L354.57 63.84L354.96 63.90L355.35 64.16L355.74 64.19L356.13 64.83L356.52 65.77L356.91 65.25L357.30 66.02L357.69 65.85L358.08 65.66L358.47 66.31L358.86 65.54L359.25 64.83L359.64 64.60L360.03 64.99L360.42 64.63L360.81 64.73L361.20 64.08L361.59 63.93L361.98 64.45L362.37 63.88L362.76 64.11L363.15 64.16L363.54 64.77L363.93 64.68L364.32 65.54L364.71 65.18L365.10 65.55L365.49 65.74L365.88 66.00L366.27 65.01L366.66 64.84L367.05 65.41L367.44 64.07L367.83 63.94L368.22 64.83L368.61 63.84L369.00 63.94L369.39 64.13L369.78 64.59L370.17 65.27L370.56 65.53L370.95 65.43L371.34 65.21L371.73 65.60L372.12 65.53L372.51 65.14L372.90 65.85L373.29 64.65L373.68 64.33L374.07 64.83L374.46 63.72L374.85 64.37L375.24 64.05L375.63 64.09L376.02 65.37L376.41 65.49L376.80 65.22L377.19 66.12L377.58 65.29L377.97 65.48L378.37 65.02L378.76 65.67L379.15 64.56L379.54 64.15L379.93 64.93L380.32 63.88L380.71 64.57L381.10 63.97L381.49 64.53L381.88 63.88L382.27 63.71L382.66 64.68L383.05 64.78L383.44 64.44L383.83 65.36L384.22 65.20L384.61 65.12L385.00 65.32L385.39 64.92L385.78 65.02L386.17 64.72L386.56 65.22L386.95 64.56L387.34 64.81L387.73 63.99L388.12 63.53L388.51 63.26L388.90 64.52L389.29 64.30L389.68 64.02L390.07 64.84L390.46 64.53L390.85 64.78L391.24 65.36L391.63 65.54L392.02 65.69L392.41 65.20L392.80 64.69L393.19 64.82L393.58 63.74L393.97 64.98L394.36 64.42L394.75 63.89L395.14 64.52L395.53 64.03L395.92 63.97L396.31 64.22L396.70 64.61L397.09 64.33L397.48 64.86L397.87 65.05L398.26 65.12L398.65 65.41L399.04 65.35L399.43 64.94L399.82 64.61L400.21 64.48L400.60 63.86L400.99 64.05L401.38 63.81L401.77 64.14L402.16 64.53L402.55 64.26L402.94 64.61L403.33 65.31L403.72 65.37L404.11 64.29L404.50 66.44L404.89 64.77L405.28 65.12L405.67 64.97L406.06 64.82L406.45 64.61L406.84 63.52L407.23 64.43L407.62 64.28L408.01 63.92L408.40 64.27L408.79 64.57L409.18 64.83L409.57 65.33L409.96 64.68L410.35 65.54L410.74 66.11L411.13 64.83L411.52 64.77L411.91 64.88L412.30 64.92L412.69 64.08L413.08 64.79L413.47 65.10L413.86 64.16L414.25 63.90L414.64 64.01L415.03 63.51L415.42 64.10L415.81 64.67L416.20 65.06L416.59 64.74L416.98 65.27L417.37 65.20L417.76 65.62L418.15 64.76L418.54 64.92L418.93 64.17L419.32 64.15L419.71 63.92L420.10 63.56L420.49 64.28L420.88 63.80L421.27 64.82L421.66 64.60L422.05 64.63L422.44 64.42L422.83 65.61L423.22 65.35L423.61 65.20L424.00 65.21L424.39 65.37L424.78 65.43L425.17 65.18L425.57 64.75L425.96 65.01L426.35 63.69L426.74 63.71L427.13 64.84L427.52 64.54L427.91 64.12L428.30 64.39L428.69 64.68L429.08 65.75L429.47 65.40L429.86 64.56L430.25 64.76L430.64 64.87L431.03 64.18L431.42 63.90L431.81 64.09L432.20 64.00L432.59 63.71L432.98 64.46L433.37 64.82L433.76 64.38L434.15 65.32L434.54 64.88L434.93 65.50L435.32 65.00L435.71 65.74L436.10 64.87L436.49 65.08L436.88 65.09L437.27 65.16L437.66 64.68L438.05 64.68L438.44 64.48L438.83 63.66L439.22 63.82L439.61 63.63L440.00 64.66L440.39 65.10L440.78 65.39L441.17 64.89L441.56 64.83L441.95 65.96L442.34 65.00L442.73 65.47L443.12 65.49L443.51 64.97L443.90 64.35L444.29 64.57L444.68 64.31L445.07 64.34L445.46 64.49L445.85 64.19L446.24 64.67L446.63 64.13L447.02 64.84L447.41 64.52L447.80 65.72L448.19 64.76L448.58 65.74L448.97 65.71L449.36 65.06L449.75 64.76L450.14 64.62L450.53 64.53L450.92 63.36L451.31 63.80L451.70 64.37L452.09 63.97L452.48 63.31L452.87 64.11L453.26 64.25L453.65 64.20L454.04 65.47L454.43 65.33L454.82 65.65L455.21 65.12L455.60 64.67L455.99 65.00L456.38 64.24L456.77 63.89L457.16 63.50L457.55 64.05L457.94 64.27L458.33 63.70L458.72 64.45L459.11 64.36L459.50 64.43L459.89 65.37L460.28 65.29L460.67 65.81L461.06 66.54L461.45 65.89L461.84 65.89L462.23 64.96L462.62 65.16L463.01 64.33L463.40 64.22L463.79 63.61L464.18 63.96L464.57 63.99L464.96 63.58L465.35 63.22L465.74 64.02L466.13 64.02L466.52 64.63L466.91 65.23L467.30 66.02L467.69 65.57L468.08 65.67L468.47 65.57L468.86 64.57L469.25 65.10L469.64 64.54L470.03 64.54L470.42 63.90L470.81 64.19L471.20 63.31L471.59 63.95L471.99 63.45L472.38 63.32L472.77 63.95L473.16 63.69L473.55 64.32L473.94 65.10L474.33 65.39L474.72 65.10L475.11 64.59L475.50 65.70L475.89 65.40L476.28 65.75L476.67 65.25L477.06 65.30L477.45 64.56L477.84 63.98L478.23 64.04L478.62 63.85L479.01 63.28L479.40 63.69L479.79 64.07L480.18 64.61L480.57 64.72L480.96 64.72L481.35 65.39L481.74 65.63L482.13 65.31L482.52 65.09L482.91 64.81L483.30 64.76L483.69 64.54L484.08 64.53L484.47 63.98L484.86 63.76L485.25 63.58L485.64 64.01L486.03 64.64L486.42 64.30L486.81 65.23L487.20 65.21L487.59 65.62L487.98 65.83L488.37 65.62L488.76 65.87L489.15 65.86L489.54 65.05L489.93 66.00L490.32 65.57L490.71 64.94L491.10 64.35L491.49 63.88L491.88 63.96L492.27 63.76L492.66 63.72L493.05 63.50L493.44 64.41L493.83 65.22L494.22 64.72L494.61 65.35L495.00 65.05L495.39 64.79L495.78 65.39L496.17 64.89L496.56 66.07L496.95 65.18L497.34 64.79L497.73 64.25L498.12 64.46L498.51 63.90L498.90 63.74L499.29 63.63L499.68 64.16L500.07 64.42L500.46 63.98L500.85 64.44L501.24 65.08L501.63 65.16L502.02 65.06L502.41 65.92L502.80 65.21L503.19 64.79L503.58 64.52L503.97 64.41L504.36 63.96L504.75 64.51L505.14 64.09L505.53 63.39L505.92 63.20L506.31 63.51L506.70 63.89L507.09 64.01L507.48 64.10L507.87 63.96L508.26 64.73L508.65 65.47L509.04 65.19L509.43 65.24L509.82 64.55L510.21 65.09L510.60 65.21L510.99 64.98L511.38 64.98L511.77 64.88L512.16 64.40L512.55 64.24L512.94 63.71L513.33 63.72L513.72 63.39L514.11 63.24L514.50 63.98L514.89 64.42L515.28 65.24L515.67 64.74L516.06 64.80L516.45 65.45L516.84 65.35L517.23 65.56L517.62 64.91L518.01 64.93L518.40 64.51L518.79 65.20L519.19 63.60L519.58 64.51L519.97 64.50L520.36 63.74L520.75 63.98L521.14 63.35L521.53 64.50L521.92 64.81L522.31 64.55L522.70 64.68L523.09 65.54L523.48 65.40L523.87 65.27L524.26 65.09L524.65 64.25L525.04 64.33L525.43 64.18L525.82 63.83L526.21 64.05L526.60 63.59L526.99 63.87L527.38 64.15L527.77 63.29L528.16 64.61L528.55 64.12L528.94 64.64L529.33 65.34L529.72 65.15L530.11 65.11L530.50 65.01L530.89 65.45L531.28 64.77L531.67 64.93L532.06 64.41L532.45 65.01L532.84 64.34L533.23 64.30L533.62 63.87L534.01 64.31L534.40 64.12L534.79 64.32L535.18 64.34L535.57 64.29L535.96 63.67L536.35 64.59L536.74 65.35L537.13 64.56L537.52 65.03L537.91 64.81L538.30 64.81L538.69 65.21L539.08 65.26L539.47 65.21L539.86 65.00L540.25 65.07L540.64 64.59L541.03 63.93L541.42 64.38L541.81 64.33L542.20 64.29" fill="none" stroke="#e42474" stroke-width="1.3" stroke-linejoin="round"/>
<rect x="440" y="91" width="102" height="38" fill="#fff"/>
<line x1="442.5" x2="467" y1="103.6" y2="103.6" stroke="#12807e" stroke-width="5"/>
<line x1="442.5" x2="467" y1="117.2" y2="117.2" stroke="#e0066a" stroke-width="5"/>
<text transform="translate(471.5 107.1) scale(0.965 1)" font-family="DejaVu Sans" font-size="9.6" fill="#262626">Aggresive</text>
<text transform="translate(471.7 120.8) scale(0.965 1)" font-family="DejaVu Sans" font-size="9.6" fill="#262626">Conservative</text>
<rect x="74.1" y="4.3" width="468.80" height="127.90" fill="none" stroke="#828282" stroke-width="1.4"/>
<line x1="72.1" x2="74.1" y1="123.20" y2="123.20" stroke="#555" stroke-width="1"/>
<text transform="translate(68.9 127.95) scale(0.886 1)" text-anchor="end" font-family="DejaVu Sans" font-size="11.2" fill="#262626">45</text>
<line x1="72.1" x2="74.1" y1="100.80" y2="100.80" stroke="#555" stroke-width="1"/>
<text transform="translate(68.9 105.55) scale(0.886 1)" text-anchor="end" font-family="DejaVu Sans" font-size="11.2" fill="#262626">50</text>
<line x1="72.1" x2="74.1" y1="78.40" y2="78.40" stroke="#555" stroke-width="1"/>
<text transform="translate(68.9 83.15) scale(0.886 1)" text-anchor="end" font-family="DejaVu Sans" font-size="11.2" fill="#262626">55</text>
<line x1="72.1" x2="74.1" y1="56.00" y2="56.00" stroke="#555" stroke-width="1"/>
<text transform="translate(68.9 60.75) scale(0.886 1)" text-anchor="end" font-family="DejaVu Sans" font-size="11.2" fill="#262626">60</text>
<line x1="72.1" x2="74.1" y1="33.60" y2="33.60" stroke="#555" stroke-width="1"/>
<text transform="translate(68.9 38.35) scale(0.886 1)" text-anchor="end" font-family="DejaVu Sans" font-size="11.2" fill="#262626">65</text>
<line x1="72.1" x2="74.1" y1="11.20" y2="11.20" stroke="#555" stroke-width="1"/>
<text transform="translate(68.9 15.95) scale(0.886 1)" text-anchor="end" font-family="DejaVu Sans" font-size="11.2" fill="#262626">70</text>
<line x1="74.10" x2="74.10" y1="132.2" y2="134.5" stroke="#555" stroke-width="1"/>
<line x1="152.12" x2="152.12" y1="132.2" y2="134.5" stroke="#555" stroke-width="1"/>
<line x1="230.13" x2="230.13" y1="132.2" y2="134.5" stroke="#555" stroke-width="1"/>
<line x1="308.15" x2="308.15" y1="132.2" y2="134.5" stroke="#555" stroke-width="1"/>
<line x1="386.17" x2="386.17" y1="132.2" y2="134.5" stroke="#555" stroke-width="1"/>
<line x1="464.18" x2="464.18" y1="132.2" y2="134.5" stroke="#555" stroke-width="1"/>
<line x1="542.20" x2="542.20" y1="132.2" y2="134.5" stroke="#555" stroke-width="1"/>
<text transform="translate(51.0 69.8) rotate(-90) scale(1 1.06)" text-anchor="middle" font-family="DejaVu Sans" font-size="10.8" fill="#262626">Mean Pressure (mmHg)</text>
</g>
<g>
<line x1="74.1" x2="542.2" y1="170.70" y2="170.70" stroke="#f0f0f0" stroke-width="1"/>
<line x1="74.1" x2="542.2" y1="234.50" y2="234.50" stroke="#f0f0f0" stroke-width="1"/>
<line x1="152.12" x2="152.12" y1="138.3" y2="266.3" stroke="#f0f0f0" stroke-width="1"/>
<line x1="230.13" x2="230.13" y1="138.3" y2="266.3" stroke="#f0f0f0" stroke-width="1"/>
<line x1="308.15" x2="308.15" y1="138.3" y2="266.3" stroke="#f0f0f0" stroke-width="1"/>
<line x1="386.17" x2="386.17" y1="138.3" y2="266.3" stroke="#f0f0f0" stroke-width="1"/>
<line x1="464.18" x2="464.18" y1="138.3" y2="266.3" stroke="#f0f0f0" stroke-width="1"/>
<path d="M74.10 202.28L74.10 207.38L74.49 207.35L74.88 207.38L75.27 207.43L75.66 207.42L76.05 207.65L76.44 207.47L76.83 207.53L77.22 207.60L77.61 207.61L78.00 207.70L78.39 207.57L78.78 207.74L79.17 207.83L79.56 207.73L79.95 207.80L80.34 207.78L80.73 207.68L81.12 207.84L81.51 207.84L81.90 207.69L82.29 208.01L82.68 207.89L83.07 207.85L83.46 207.85L83.85 207.81L84.24 208.07L84.63 207.99L85.02 208.07L85.41 208.13L85.80 208.17L86.19 208.25L86.58 208.13L86.97 208.12L87.36 208.29L87.75 208.17L88.14 208.30L88.53 208.36L88.92 208.51L89.31 208.24L89.70 208.29L90.09 208.36L90.48 208.35L90.87 208.40L91.26 208.24L91.65 208.27L92.04 208.20L92.43 208.21L92.82 208.32L93.21 208.31L93.60 208.13L93.99 208.28L94.38 208.11L94.77 208.04L95.16 208.20L95.55 208.02L95.94 208.05L96.33 207.99L96.72 208.07L97.11 208.00L97.50 207.95L97.90 207.82L98.29 207.88L98.68 207.88L99.07 208.01L99.46 207.86L99.85 207.92L100.24 207.86L100.63 207.81L101.02 207.74L101.41 207.75L101.80 207.76L102.19 207.76L102.58 207.63L102.97 207.79L103.36 207.70L103.75 207.57L104.14 207.68L104.53 207.58L104.92 207.56L105.31 207.45L105.70 207.50L106.09 207.71L106.48 207.55L106.87 207.51L107.26 207.45L107.65 207.47L108.04 207.33L108.43 207.37L108.82 207.54L109.21 207.48L109.60 207.57L109.99 207.25L110.38 207.40L110.77 207.40L111.16 207.51L111.55 207.42L111.94 207.35L112.33 207.42L112.72 207.42L113.11 207.43L113.50 207.22L113.89 207.43L114.28 207.50L114.67 207.42L115.06 207.41L115.45 207.39L115.84 207.40L116.23 207.47L116.62 207.39L117.01 207.34L117.40 207.49L117.79 207.21L118.18 207.23L118.57 207.51L118.96 207.40L119.35 207.28L119.74 207.25L120.13 207.22L120.52 207.51L120.91 207.45L121.30 207.40L121.69 207.31L122.08 207.44L122.47 207.32L122.86 207.31L123.25 207.29L123.64 207.45L124.03 207.33L124.42 207.34L124.81 207.38L125.20 207.23L125.59 207.36L125.98 207.22L126.37 207.38L126.76 207.20L127.15 207.20L127.54 207.40L127.93 207.30L128.32 207.30L128.71 207.40L129.10 207.26L129.49 207.27L129.88 207.39L130.27 207.31L130.66 207.24L131.05 207.33L131.44 207.37L131.83 207.18L132.22 207.39L132.61 207.28L133.00 207.21L133.39 207.24L133.78 207.45L134.17 207.33L134.56 207.31L134.95 207.31L135.34 207.24L135.73 207.25L136.12 207.28L136.51 207.27L136.90 207.20L137.29 207.18L137.68 207.44L138.07 207.10L138.46 207.32L138.85 207.21L139.24 207.41L139.63 207.32L140.02 207.38L140.41 207.18L140.80 207.20L141.19 207.27L141.58 207.28L141.97 207.23L142.36 207.34L142.75 207.31L143.14 207.32L143.53 207.19L143.92 207.26L144.31 207.36L144.71 207.23L145.10 207.21L145.49 207.14L145.88 207.30L146.27 207.22L146.66 207.08L147.05 207.27L147.44 207.27L147.83 207.20L148.22 207.28L148.61 207.24L149.00 207.28L149.39 207.30L149.78 207.16L150.17 207.26L150.56 207.31L150.95 207.25L151.34 207.24L151.73 207.20L152.12 207.15L152.51 207.16L152.90 207.49L153.29 207.49L153.68 207.69L154.07 207.61L154.46 207.66L154.85 207.84L155.24 207.94L155.63 208.03L156.02 208.15L156.41 208.06L156.80 208.03L157.19 208.36L157.58 208.21L157.97 208.44L158.36 208.62L158.75 208.54L159.14 208.60L159.53 208.71L159.92 208.85L160.31 208.77L160.70 209.01L161.09 209.01L161.48 209.09L161.87 209.30L162.26 209.45L162.65 209.52L163.04 209.50L163.43 209.52L163.82 209.77L164.21 209.76L164.60 209.66L164.99 210.01L165.38 209.91L165.77 210.00L166.16 210.04L166.55 210.30L166.94 210.24L167.33 210.46L167.72 210.32L168.11 210.57L168.50 210.55L168.89 210.73L169.28 210.73L169.67 210.95L170.06 210.88L170.45 210.93L170.84 211.06L171.23 211.01L171.62 211.19L172.01 211.24L172.40 211.34L172.79 211.28L173.18 211.54L173.57 211.56L173.96 211.60L174.35 211.59L174.74 211.67L175.13 211.67L175.52 211.77L175.91 211.88L176.30 211.90L176.69 211.91L177.08 212.18L177.47 211.93L177.86 212.14L178.25 212.18L178.64 212.18L179.03 212.27L179.42 212.42L179.81 212.37L180.20 212.29L180.59 212.37L180.98 212.41L181.37 212.60L181.76 212.63L182.15 212.57L182.54 212.59L182.93 212.76L183.32 212.89L183.71 213.02L184.10 212.80L184.49 213.09L184.88 212.98L185.27 212.99L185.66 212.85L186.05 213.15L186.44 213.23L186.83 213.23L187.22 213.28L187.61 213.26L188.00 213.37L188.39 213.54L188.78 213.70L189.17 213.55L189.56 213.68L189.95 213.56L190.34 213.84L190.73 213.77L191.12 213.89L191.52 213.96L191.91 213.80L192.30 213.97L192.69 214.05L193.08 214.03L193.47 214.21L193.86 214.22L194.25 214.30L194.64 214.13L195.03 214.31L195.42 214.33L195.81 214.33L196.20 214.49L196.59 214.53L196.98 214.70L197.37 214.57L197.76 214.63L198.15 214.73L198.54 214.65L198.93 214.94L199.32 214.80L199.71 215.00L200.10 215.02L200.49 214.99L200.88 214.91L201.27 215.16L201.66 215.19L202.05 215.26L202.44 215.03L202.83 215.20L203.22 215.26L203.61 215.17L204.00 215.36L204.39 215.60L204.78 215.52L205.17 215.62L205.56 215.40L205.95 215.73L206.34 215.63L206.73 215.74L207.12 215.78L207.51 215.81L207.90 215.85L208.29 215.94L208.68 215.94L209.07 216.08L209.46 216.07L209.85 216.14L210.24 216.05L210.63 216.19L211.02 216.14L211.41 216.24L211.80 216.12L212.19 216.55L212.58 216.46L212.97 216.45L213.36 216.50L213.75 216.62L214.14 216.46L214.53 216.84L214.92 216.78L215.31 217.13L215.70 216.37L216.09 217.19L216.48 217.11L216.87 217.48L217.26 216.13L217.65 217.41L218.04 216.73L218.43 217.23L218.82 216.23L219.21 217.29L219.60 216.56L219.99 217.43L220.38 217.14L220.77 217.90L221.16 216.02L221.55 217.87L221.94 217.62L222.33 218.10L222.72 217.36L223.11 218.49L223.50 217.98L223.89 218.42L224.28 216.41L224.67 218.52L225.06 218.38L225.45 219.19L225.84 218.27L226.23 218.76L226.62 218.38L227.01 219.55L227.40 217.78L227.79 219.33L228.18 218.90L228.57 219.78L228.96 217.76L229.35 219.58L229.74 219.14L230.13 219.30L230.52 218.38L230.91 219.43L231.30 217.63L231.69 219.61L232.08 218.90L232.47 219.86L232.86 219.14L233.25 219.33L233.64 219.15L234.03 219.47L234.42 217.35L234.81 219.79L235.20 217.89L235.59 220.14L235.98 217.41L236.37 219.48L236.76 217.98L237.15 220.10L237.54 219.58L237.94 220.65L238.33 217.67L238.72 219.79L239.11 219.64L239.50 219.93L239.89 217.53L240.28 220.87L240.67 218.95L241.06 220.84L241.45 218.08L241.84 220.95L242.23 219.57L242.62 221.24L243.01 219.89L243.40 221.16L243.79 218.89L244.18 220.83L244.57 219.03L244.96 220.62L245.35 217.08L245.74 220.32L246.13 220.08L246.52 220.79L246.91 218.71L247.30 220.29L247.69 220.02L248.08 220.99L248.47 218.66L248.86 221.06L249.25 216.91L249.64 220.85L250.03 219.67L250.42 221.19L250.81 219.95L251.20 221.01L251.59 219.70L251.98 221.02L252.37 217.55L252.76 221.20L253.15 217.67L253.54 220.66L253.93 220.02L254.32 220.27L254.71 219.95L255.10 220.06L255.49 220.00L255.88 220.36L256.27 220.04L256.66 220.58L257.05 219.84L257.44 220.23L257.83 218.85L258.22 221.38L258.61 218.43L259.00 220.83L259.39 217.26L259.78 220.56L260.17 220.25L260.56 221.19L260.95 217.21L261.34 221.01L261.73 217.13L262.12 221.43L262.51 218.22L262.90 220.93L263.29 217.62L263.68 220.69L264.07 218.18L264.46 220.50L264.85 217.25L265.24 220.57L265.63 220.27L266.02 220.54L266.41 220.20L266.80 220.75L267.19 219.84L267.58 220.96L267.97 219.22L268.36 220.99L268.75 219.60L269.14 220.61L269.53 220.35L269.92 221.35L270.31 219.27L270.70 221.48L271.09 219.76L271.48 220.75L271.87 220.20L272.26 221.10L272.65 218.93L273.04 221.37L273.43 218.42L273.82 220.96L274.21 220.85L274.60 221.10L274.99 220.29L275.38 221.61L275.77 220.63L276.16 221.73L276.55 217.67L276.94 220.68L277.33 218.70L277.72 221.31L278.11 218.62L278.50 221.03L278.89 219.54L279.28 221.12L279.67 217.52L280.06 221.36L280.45 218.76L280.84 220.56L281.23 220.31L281.62 221.38L282.01 218.72L282.40 220.66L282.79 219.93L283.18 221.45L283.57 217.63L283.96 220.60L284.35 218.38L284.75 221.08L285.14 219.91L285.53 220.85L285.92 220.40L286.31 221.67L286.70 220.55L287.09 221.76L287.48 220.56L287.87 221.59L288.26 217.91L288.65 221.86L289.04 218.63L289.43 221.13L289.82 218.16L290.21 221.45L290.60 220.70L290.99 221.19L291.38 220.57L291.77 221.34L292.16 220.74L292.55 221.69L292.94 217.76L293.33 221.75L293.72 219.77L294.11 220.95L294.50 220.59L294.89 221.61L295.28 218.93L295.67 221.58L296.06 218.60L296.45 221.56L296.84 220.18L297.23 221.28L297.62 221.27L298.01 222.40L298.40 221.29L298.79 221.47L299.18 219.86L299.57 221.67L299.96 220.90L300.35 221.51L300.74 219.21L301.13 221.48L301.52 218.81L301.91 221.19L302.30 218.52L302.69 220.52L303.08 219.44L303.47 221.17L303.86 220.28L304.25 220.92L304.64 220.42L305.03 221.14L305.42 217.17L305.81 220.79L306.20 219.79L306.59 221.30L306.98 219.23L307.37 220.85L307.76 219.06L308.15 221.00L308.54 219.86L308.93 221.30L309.32 220.07L309.71 221.40L310.10 220.34L310.49 221.83L310.88 221.07L311.27 221.82L311.66 220.95L312.05 221.56L312.44 220.36L312.83 221.17L313.22 220.39L313.61 221.08L314.00 219.89L314.39 220.79L314.78 220.12L315.17 221.16L315.56 220.69L315.95 220.87L316.34 220.74L316.73 221.72L317.12 220.84L317.51 221.44L317.90 218.51L318.29 221.03L318.68 218.85L319.07 221.79L319.46 218.13L319.85 221.05L320.24 220.64L320.63 221.48L321.02 217.22L321.41 220.55L321.80 219.34L322.19 221.55L322.58 219.48L322.97 221.53L323.36 219.62L323.75 221.81L324.14 220.47L324.53 222.05L324.92 221.05L325.31 221.45L325.70 219.54L326.09 221.29L326.48 220.96L326.87 221.68L327.26 219.00L327.65 222.03L328.04 221.09L328.43 222.06L328.82 219.46L329.21 221.18L329.60 219.38L329.99 221.21L330.38 220.86L330.77 221.04L331.16 218.01L331.56 221.57L331.95 219.34L332.34 221.07L332.73 219.63L333.12 221.16L333.51 219.30L333.90 221.46L334.29 220.11L334.68 220.89L335.07 219.24L335.46 221.19L335.85 219.85L336.24 220.43L336.63 219.45L337.02 220.51L337.41 219.66L337.80 220.76L338.19 220.35L338.58 221.14L338.97 219.50L339.36 221.14L339.75 217.88L340.14 221.08L340.53 219.96L340.92 221.97L341.31 217.93L341.70 222.18L342.09 220.47L342.48 221.81L342.87 220.73L343.26 221.86L343.65 220.96L344.04 221.59L344.43 220.68L344.82 221.31L345.21 220.39L345.60 221.36L345.99 220.77L346.38 220.84L346.77 217.89L347.16 220.76L347.55 218.51L347.94 221.16L348.33 219.52L348.72 221.26L349.11 218.92L349.50 220.60L349.89 217.92L350.28 221.46L350.67 219.92L351.06 221.62L351.45 219.57L351.84 221.39L352.23 218.87L352.62 221.91L353.01 220.21L353.40 221.00L353.79 220.28L354.18 220.96L354.57 220.64L354.96 221.69L355.35 217.91L355.74 220.98L356.13 220.29L356.52 220.84L356.91 216.89L357.30 220.50L357.69 220.19L358.08 220.69L358.47 220.19L358.86 220.98L359.25 220.59L359.64 221.67L360.03 220.31L360.42 221.50L360.81 217.50L361.20 222.06L361.59 218.09L361.98 221.40L362.37 217.56L362.76 221.91L363.15 220.31L363.54 221.11L363.93 220.43L364.32 221.15L364.71 220.39L365.10 221.33L365.49 220.59L365.88 220.70L366.27 220.03L366.66 221.69L367.05 218.30L367.44 221.92L367.83 220.65L368.22 221.72L368.61 217.63L369.00 221.51L369.39 220.67L369.78 221.51L370.17 219.01L370.56 221.59L370.95 220.10L371.34 220.82L371.73 219.94L372.12 220.54L372.51 217.74L372.90 220.29L373.29 219.27L373.68 220.46L374.07 217.12L374.46 220.74L374.85 217.54L375.24 220.87L375.63 219.65L376.02 220.79L376.41 220.27L376.80 221.11L377.19 219.56L377.58 221.09L377.97 220.55L378.37 221.67L378.76 220.37L379.15 221.59L379.54 220.76L379.93 221.02L380.32 218.08L380.71 221.43L381.10 220.80L381.49 221.83L381.88 219.31L382.27 221.59L382.66 219.93L383.05 221.22L383.44 220.54L383.83 222.09L384.22 219.34L384.61 221.92L385.00 217.72L385.39 221.82L385.78 220.27L386.17 220.95L386.56 218.96L386.95 220.78L387.34 220.45L387.73 221.28L388.12 217.39L388.51 221.25L388.90 220.06L389.29 220.70L389.68 219.58L390.07 221.32L390.46 217.89L390.85 221.41L391.24 220.29L391.63 220.47L392.02 218.92L392.41 220.98L392.80 220.43L393.19 220.51L393.58 218.14L393.97 221.14L394.36 217.86L394.75 220.60L395.14 219.74L395.53 220.51L395.92 218.68L396.31 220.49L396.70 218.52L397.09 220.73L397.48 216.94L397.87 221.19L398.26 218.28L398.65 220.86L399.04 218.27L399.43 221.11L399.82 217.65L400.21 221.22L400.60 219.88L400.99 220.90L401.38 219.44L401.77 221.11L402.16 220.23L402.55 221.00L402.94 220.49L403.33 220.87L403.72 220.54L404.11 221.00L404.50 220.59L404.89 221.58L405.28 219.98L405.67 221.44L406.06 220.71L406.45 221.59L406.84 217.66L407.23 221.30L407.62 219.06L408.01 221.05L408.40 220.90L408.79 221.26L409.18 220.07L409.57 222.01L409.96 220.21L410.35 221.92L410.74 220.92L411.13 221.19L411.52 220.33L411.91 221.94L412.30 220.34L412.69 221.82L413.08 220.71L413.47 221.17L413.86 219.93L414.25 221.79L414.64 220.18L415.03 221.64L415.42 217.56L415.81 221.56L416.20 219.19L416.59 221.84L416.98 220.66L417.37 221.55L417.76 220.24L418.15 221.00L418.54 220.27L418.93 220.95L419.32 218.22L419.71 220.88L420.10 220.30L420.49 220.85L420.88 218.91L421.27 221.57L421.66 218.25L422.05 221.68L422.44 220.76L422.83 221.02L423.22 219.33L423.61 221.88L424.00 220.05L424.39 221.63L424.78 220.98L425.17 222.05L425.57 218.52L425.96 221.94L426.35 219.41L426.74 221.78L427.13 220.39L427.52 221.43L427.91 219.32L428.30 221.17L428.69 218.12L429.08 221.00L429.47 220.46L429.86 221.59L430.25 220.63L430.64 221.92L431.03 219.33L431.42 221.70L431.81 218.54L432.20 221.17L432.59 217.55L432.98 220.84L433.37 219.91L433.76 220.83L434.15 220.66L434.54 221.53L434.93 220.61L435.32 221.11L435.71 220.66L436.10 221.59L436.49 219.07L436.88 220.90L437.27 219.26L437.66 221.17L438.05 219.54L438.44 221.51L438.83 219.25L439.22 220.76L439.61 220.55L440.00 220.61L440.39 218.10L440.78 221.26L441.17 220.69L441.56 221.48L441.95 220.71L442.34 221.78L442.73 220.90L443.12 221.87L443.51 218.79L443.90 221.76L444.29 218.88L444.68 221.18L445.07 220.72L445.46 221.85L445.85 219.85L446.24 221.54L446.63 220.79L447.02 222.01L447.41 221.19L447.80 221.97L448.19 219.00L448.58 221.35L448.97 218.48L449.36 221.56L449.75 220.86L450.14 222.01L450.53 219.76L450.92 221.25L451.31 220.78L451.70 221.79L452.09 220.63L452.48 221.67L452.87 220.50L453.26 221.12L453.65 218.24L454.04 220.57L454.43 217.42L454.82 220.67L455.21 218.87L455.60 221.04L455.99 220.10L456.38 221.14L456.77 218.78L457.16 220.82L457.55 217.69L457.94 221.03L458.33 218.52L458.72 221.17L459.11 218.64L459.50 220.80L459.89 220.25L460.28 220.62L460.67 220.23L461.06 221.56L461.45 218.00L461.84 221.22L462.23 219.92L462.62 221.00L463.01 219.52L463.40 221.17L463.79 217.54L464.18 221.76L464.57 218.37L464.96 220.89L465.35 218.13L465.74 221.54L466.13 219.27L466.52 221.47L466.91 220.23L467.30 221.15L467.69 220.62L468.08 221.91L468.47 220.76L468.86 221.28L469.25 220.75L469.64 221.45L470.03 220.69L470.42 221.35L470.81 220.57L471.20 221.71L471.59 218.01L471.99 221.50L472.38 220.68L472.77 220.76L473.16 218.40L473.55 221.14L473.94 220.44L474.33 221.29L474.72 220.31L475.11 221.03L475.50 220.52L475.89 220.86L476.28 218.36L476.67 221.37L477.06 219.46L477.45 221.69L477.84 217.87L478.23 220.67L478.62 219.95L479.01 220.65L479.40 219.50L479.79 220.79L480.18 220.48L480.57 221.25L480.96 220.65L481.35 220.85L481.74 217.94L482.13 221.40L482.52 219.65L482.91 221.37L483.30 220.98L483.69 221.57L484.08 220.84L484.47 221.76L484.86 220.84L485.25 221.44L485.64 217.74L486.03 221.38L486.42 219.18L486.81 220.81L487.20 220.37L487.59 221.36L487.98 220.25L488.37 221.36L488.76 220.55L489.15 221.11L489.54 220.70L489.93 221.00L490.32 217.62L490.71 221.16L491.10 220.72L491.49 220.81L491.88 219.43L492.27 221.76L492.66 220.20L493.05 221.23L493.44 220.61L493.83 221.70L494.22 219.39L494.61 220.82L495.00 218.35L495.39 221.34L495.78 220.43L496.17 220.76L496.56 220.49L496.95 221.49L497.34 220.43L497.73 221.24L498.12 220.12L498.51 220.74L498.90 220.58L499.29 220.77L499.68 219.24L500.07 221.26L500.46 217.02L500.85 221.20L501.24 220.22L501.63 220.29L502.02 220.04L502.41 221.13L502.80 219.21L503.19 220.18L503.58 218.70L503.97 220.14L504.36 219.28L504.75 221.22L505.14 218.54L505.53 220.32L505.92 219.85L506.31 220.78L506.70 219.79L507.09 221.19L507.48 218.30L507.87 220.76L508.26 219.02L508.65 220.63L509.04 219.60L509.43 220.89L509.82 217.41L510.21 221.15L510.60 218.75L510.99 221.04L511.38 220.47L511.77 220.97L512.16 217.53L512.55 220.81L512.94 219.21L513.33 221.94L513.72 220.79L514.11 221.29L514.50 219.84L514.89 222.45L515.28 220.78L515.67 221.76L516.06 221.07L516.45 222.25L516.84 217.97L517.23 221.87L517.62 219.80L518.01 221.91L518.40 219.55L518.79 221.72L519.19 217.93L519.58 221.24L519.97 219.46L520.36 221.63L520.75 219.24L521.14 222.02L521.53 220.59L521.92 221.09L522.31 220.96L522.70 221.17L523.09 218.90L523.48 221.57L523.87 220.07L524.26 221.45L524.65 220.43L525.04 221.11L525.43 218.97L525.82 221.45L526.21 220.16L526.60 220.72L526.99 220.72L527.38 220.97L527.77 219.38L528.16 221.81L528.55 217.93L528.94 221.54L529.33 219.52L529.72 221.63L530.11 220.69L530.50 221.80L530.89 218.40L531.28 221.90L531.67 220.93L532.06 221.98L532.45 220.06L532.84 221.92L533.23 217.74L533.62 221.70L534.01 220.46L534.40 220.57L534.79 220.40L535.18 220.68L535.57 217.19L535.96 221.13L536.35 217.78L536.74 221.36L537.13 219.37L537.52 221.41L537.91 217.60L538.30 221.54L538.69 217.54L539.08 220.77L539.47 220.45L539.86 221.25L540.25 220.79L540.64 221.22L541.03 219.69L541.42 221.36L541.81 218.56L542.20 221.39L542.20 202.28Z" fill="#000"/>
<path d="M74.10 141.03L74.49 141.03L74.88 141.03L75.27 141.03L75.66 141.03L76.05 141.03L76.44 141.03L76.83 141.65L77.22 141.65L77.61 141.65L78.00 141.65L78.39 141.65L78.78 141.65L79.17 142.27L79.56 142.27L79.95 142.27L80.34 142.27L80.73 142.27L81.12 142.27L81.51 142.27L81.90 144.72L82.29 144.72L82.68 144.72L83.07 144.72L83.46 144.72L83.85 144.72L84.24 148.05L84.63 148.05L85.02 148.05L85.41 148.05L85.80 148.05L86.19 148.05L86.58 151.49L86.97 151.49L87.36 151.49L87.75 151.49L88.14 151.49L88.53 151.49L88.92 151.49L89.31 155.50L89.70 155.50L90.09 155.50L90.48 155.50L90.87 155.50L91.26 155.50L91.65 158.83L92.04 158.83L92.43 158.83L92.82 158.83L93.21 158.83L93.60 158.83L93.99 158.83L94.38 160.01L94.77 160.01L95.16 160.01L95.55 160.01L95.94 160.01L96.33 160.01L96.72 160.97L97.11 160.97L97.50 160.97L97.90 160.97L98.29 160.97L98.68 160.97L99.07 162.25L99.46 162.25L99.85 162.25L100.24 162.25L100.63 162.25L101.02 162.25L101.41 162.25L101.80 164.60L102.19 164.60L102.58 164.60L102.97 164.60L103.36 164.60L103.75 164.60L104.14 169.72L104.53 169.72L104.92 169.72L105.31 169.72L105.70 169.72L106.09 169.72L106.48 169.72L106.87 174.82L107.26 174.82L107.65 174.82L108.04 174.82L108.43 174.82L108.82 174.82L109.21 178.46L109.60 178.46L109.99 178.46L110.38 178.46L110.77 178.46L111.16 178.46L111.55 183.33L111.94 183.33L112.33 183.33L112.72 183.33L113.11 183.33L113.50 183.33L113.89 183.33L114.28 188.72L114.67 188.72L115.06 188.72L115.45 188.72L115.84 188.72L116.23 188.72L116.62 190.30L117.01 190.30L117.40 190.30L117.79 190.30L118.18 190.37L118.57 190.45L118.96 190.51L119.35 192.17L119.74 192.24L120.13 192.31L120.52 192.39L120.91 192.46L121.30 192.53L121.69 193.65L122.08 193.72L122.47 192.05L122.86 192.05L123.25 192.05L123.64 192.05L124.03 193.02L124.42 193.02L124.81 193.02L125.20 193.02L125.59 193.34L125.98 193.34L126.37 193.34L126.76 194.28L127.15 194.28L127.54 194.28L127.93 194.28L128.32 194.28L128.71 194.28L129.10 194.52L129.49 194.52L129.88 194.52L130.27 194.52L130.66 194.52L131.05 194.52L131.44 194.52L131.83 195.33L132.22 195.33L132.61 195.87L133.00 195.87L133.39 195.87L133.78 195.87L134.17 195.94L134.56 195.94L134.95 195.94L135.34 195.94L135.73 195.94L136.12 197.19L136.51 197.25L136.90 197.25L137.29 197.25L137.68 197.25L138.07 197.25L138.46 197.25L138.85 197.25L139.24 197.32L139.63 196.03L140.02 196.03L140.41 196.03L140.80 196.03L141.19 196.03L141.58 196.10L141.97 196.10L142.36 196.10L142.75 196.47L143.14 196.47L143.53 196.47L143.92 196.47L144.31 196.53L144.71 196.53L145.10 196.53L145.49 196.53L145.88 196.53L146.27 196.76L146.66 196.83L147.05 196.83L147.44 196.83L147.83 196.83L148.22 196.83L148.61 196.83L149.00 196.90L149.39 196.90L149.78 197.48L150.17 197.48L150.56 197.48L150.95 197.48L151.34 197.48L151.73 197.86L152.12 197.86L152.51 197.86L152.90 197.86L153.29 197.40L153.68 197.40L154.07 197.78L154.46 197.78L154.85 197.78L155.24 197.78L155.63 197.78L156.02 197.78L156.41 197.78L156.80 198.07L157.19 198.07L157.58 198.07L157.97 198.07L158.36 198.07L158.75 198.07L159.14 198.10L159.53 198.10L159.92 197.52L160.31 197.52L160.70 197.52L161.09 197.52L161.48 197.56L161.87 197.56L162.26 197.56L162.65 197.56L163.04 197.56L163.43 197.98L163.82 197.98L164.21 198.02L164.60 198.02L164.99 198.02L165.38 198.02L165.77 198.02L166.16 198.02L166.55 198.05L166.94 197.23L167.33 197.23L167.72 197.23L168.11 197.23L168.50 197.23L168.89 197.23L169.28 196.71L169.67 196.71L170.06 196.71L170.45 198.02L170.84 198.02L171.23 198.02L171.62 196.94L172.01 196.94L172.40 196.94L172.79 196.94L173.18 196.94L173.57 196.94L173.96 195.16L174.35 195.16L174.74 195.16L175.13 195.16L175.52 195.16L175.91 195.16L176.30 195.16L176.69 194.90L177.08 194.89L177.47 194.89L177.86 194.89L178.25 194.89L178.64 194.89L179.03 194.63L179.42 194.63L179.81 194.63L180.20 194.63L180.59 195.39L180.98 195.39L181.37 195.39L181.76 195.14L182.15 195.14L182.54 195.14L182.93 195.14L183.32 195.14L183.71 195.14L184.10 195.25L184.49 195.25L184.88 195.25L185.27 195.25L185.66 195.25L186.05 195.25L186.44 195.20L186.83 195.20L187.22 195.20L187.61 193.98L188.00 193.98L188.39 193.98L188.78 193.98L189.17 193.94L189.56 194.50L189.95 194.50L190.34 194.50L190.73 194.50L191.12 194.50L191.52 194.29L191.91 194.29L192.30 194.29L192.69 194.29L193.08 194.29L193.47 194.29L193.86 194.29L194.25 192.17L194.64 191.27L195.03 190.37L195.42 190.02L195.81 190.02L196.20 190.02L196.59 189.56L196.98 189.56L197.37 189.56L197.76 189.56L198.15 189.56L198.54 189.56L198.93 189.24L199.32 189.24L199.71 189.24L200.10 189.24L200.49 189.64L200.88 190.14L201.27 190.64L201.66 190.52L202.05 190.52L202.44 190.52L202.83 190.52L203.22 190.52L203.61 190.52L204.00 190.20L204.39 190.20L204.78 190.20L205.17 189.64L205.56 188.94L205.95 188.24L206.34 187.97L206.73 187.65L207.12 187.65L207.51 187.65L207.90 187.65L208.29 187.65L208.68 187.65L209.07 187.21L209.46 187.21L209.85 187.21L210.24 187.21L210.63 187.21L211.02 187.21L211.41 187.38L211.80 188.18L212.19 188.98L212.58 189.30L212.97 189.30L213.36 189.30L213.75 189.30L214.14 188.84L214.53 188.84L214.92 188.84L215.31 188.84L215.70 188.84L216.09 188.84L216.48 188.38L216.87 188.38L217.26 188.38L217.65 187.90L218.04 187.30L218.43 186.70L218.82 186.46L219.21 186.01L219.60 186.01L219.99 186.01L220.38 186.01L220.77 186.01L221.16 186.01L221.55 185.55L221.94 185.55L222.33 185.55L222.72 185.55L223.11 185.55L223.50 185.55L223.89 185.21L224.28 185.21L224.67 185.21L225.06 185.21L225.45 185.77L225.84 186.47L226.23 187.17L226.62 187.19L227.01 187.19L227.40 187.19L227.79 187.19L228.18 187.19L228.57 187.19L228.96 186.94L229.35 186.30L229.74 185.50L230.13 184.70L230.52 184.39L230.91 184.39L231.30 184.39L231.69 184.13L232.08 184.13L232.47 184.13L232.86 184.13L233.25 184.13L233.64 184.13L234.03 183.87L234.42 183.87L234.81 184.43L235.20 185.13L235.59 185.83L235.98 186.11L236.37 185.85L236.76 185.85L237.15 185.85L237.54 185.85L237.94 185.85L238.33 185.85L238.72 185.85L239.11 185.65L239.50 185.02L239.89 184.22L240.28 183.42L240.67 183.10L241.06 183.10L241.45 183.00L241.84 183.00L242.23 183.00L242.62 183.00L243.01 183.00L243.40 183.00L243.79 183.00L244.18 182.90L244.57 182.90L244.96 182.90L245.35 182.90L245.74 182.90L246.13 182.90L246.52 182.80L246.91 182.80L247.30 183.43L247.69 184.23L248.08 185.03L248.47 185.35L248.86 185.25L249.25 185.25L249.64 185.25L250.03 185.25L250.42 185.25L250.81 185.25L251.20 185.25L251.59 185.14L251.98 185.38L252.37 185.68L252.76 185.98L253.15 186.10L253.54 186.10L253.93 186.01L254.32 186.01L254.71 186.01L255.10 186.01L255.49 186.01L255.88 186.01L256.27 186.01L256.66 186.01L257.05 186.01L257.44 186.01L257.83 185.54L258.22 184.94L258.61 184.33L259.00 184.07L259.39 184.07L259.78 184.07L260.17 184.07L260.56 183.97L260.95 183.57L261.34 183.16L261.73 182.78L262.12 182.78L262.51 182.78L262.90 182.78L263.29 182.78L263.68 182.78L264.07 182.78L264.46 182.78L264.85 182.78L265.24 183.75L265.63 184.76L266.02 185.77L266.41 186.01L266.80 186.01L267.19 186.01L267.58 186.01L267.97 186.01L268.36 186.01L268.75 186.01L269.14 186.01L269.53 186.01L269.92 186.01L270.31 186.01L270.70 186.01L271.09 186.01L271.48 186.01L271.87 186.01L272.26 186.01L272.65 186.01L273.04 186.01L273.43 185.23L273.82 183.76L274.21 182.29L274.60 181.31L274.99 181.31L275.38 181.31L275.77 181.31L276.16 181.31L276.55 181.31L276.94 181.31L277.33 181.31L277.72 181.31L278.11 181.31L278.50 181.31L278.89 181.31L279.28 182.04L279.67 183.51L280.06 184.98L280.45 186.01L280.84 186.01L281.23 186.01L281.62 186.01L282.01 186.01L282.40 186.01L282.79 186.01L283.18 186.01L283.57 186.01L283.96 186.01L284.35 186.01L284.75 186.01L285.14 186.01L285.53 186.01L285.92 185.64L286.31 184.96L286.70 184.28L287.09 183.83L287.48 183.83L287.87 183.83L288.26 183.83L288.65 183.83L289.04 183.46L289.43 183.01L289.82 182.55L290.21 182.38L290.60 182.38L290.99 182.38L291.38 182.38L291.77 182.38L292.16 182.38L292.55 182.38L292.94 182.38L293.33 182.66L293.72 183.79L294.11 184.92L294.50 186.01L294.89 186.01L295.28 186.01L295.67 186.01L296.06 186.01L296.45 186.01L296.84 186.01L297.23 186.01L297.62 186.01L298.01 186.01L298.40 186.01L298.79 186.01L299.18 186.01L299.57 186.01L299.96 186.01L300.35 186.01L300.74 186.01L301.13 186.01L301.52 184.70L301.91 183.29L302.30 181.89L302.69 181.52L303.08 181.52L303.47 181.52L303.86 181.52L304.25 181.52L304.64 181.52L305.03 181.52L305.42 181.52L305.81 181.52L306.20 181.52L306.59 181.52L306.98 181.52L307.37 181.52L307.76 181.52L308.15 181.52L308.54 182.70L308.93 184.10L309.32 185.50L309.71 186.01L310.10 186.01L310.49 186.01L310.88 186.01L311.27 186.01L311.66 186.01L312.05 186.01L312.44 186.01L312.83 186.01L313.22 186.01L313.61 186.01L314.00 186.01L314.39 186.01L314.78 186.01L315.17 186.01L315.56 186.01L315.95 186.01L316.34 186.01L316.73 186.01L317.12 184.79L317.51 183.55L317.90 182.31L318.29 182.05L318.68 182.05L319.07 182.05L319.46 182.05L319.85 182.05L320.24 182.05L320.63 182.05L321.02 182.05L321.41 182.05L321.80 182.05L322.19 182.05L322.58 182.05L322.97 182.05L323.36 182.05L323.75 182.05L324.14 182.74L324.53 183.98L324.92 185.22L325.31 186.01L325.70 186.01L326.09 186.01L326.48 186.01L326.87 186.01L327.26 186.01L327.65 186.01L328.04 186.01L328.43 186.01L328.82 186.01L329.21 186.01L329.60 186.01L329.99 186.01L330.38 186.01L330.77 186.01L331.16 186.01L331.56 185.30L331.95 184.44L332.34 183.59L332.73 183.27L333.12 183.27L333.51 183.27L333.90 183.27L334.29 183.27L334.68 182.89L335.07 182.32L335.46 181.75L335.85 181.44L336.24 181.44L336.63 181.44L337.02 181.44L337.41 181.44L337.80 181.44L338.19 181.44L338.58 181.44L338.97 181.44L339.36 182.02L339.75 183.45L340.14 184.88L340.53 186.01L340.92 186.01L341.31 186.01L341.70 186.01L342.09 186.01L342.48 186.01L342.87 186.01L343.26 186.01L343.65 186.01L344.04 186.01L344.43 186.01L344.82 186.01L345.21 186.01L345.60 186.01L345.99 186.01L346.38 185.04L346.77 183.60L347.16 182.15L347.55 181.39L347.94 181.39L348.33 181.39L348.72 181.39L349.11 181.39L349.50 181.39L349.89 181.39L350.28 181.39L350.67 181.39L351.06 181.39L351.45 181.39L351.84 181.41L352.23 182.85L352.62 184.29L353.01 185.74L353.40 186.01L353.79 186.01L354.18 186.01L354.57 186.01L354.96 186.01L355.35 186.01L355.74 186.01L356.13 186.01L356.52 186.01L356.91 186.01L357.30 186.01L357.69 186.01L358.08 185.29L358.47 184.43L358.86 183.56L359.25 183.24L359.64 183.24L360.03 183.24L360.42 182.90L360.81 182.32L361.20 181.74L361.59 181.38L361.98 181.38L362.37 181.38L362.76 181.38L363.15 181.38L363.54 181.38L363.93 181.69L364.32 183.13L364.71 184.58L365.10 186.01L365.49 186.01L365.88 186.01L366.27 186.01L366.66 186.01L367.05 186.01L367.44 186.01L367.83 186.01L368.22 186.01L368.61 186.01L369.00 186.01L369.39 186.01L369.78 184.85L370.17 183.62L370.56 182.39L370.95 182.07L371.34 182.07L371.73 182.07L372.12 182.07L372.51 182.07L372.90 182.07L373.29 182.07L373.68 182.07L374.07 182.07L374.46 182.07L374.85 182.07L375.24 182.07L375.63 182.07L376.02 182.29L376.41 183.52L376.80 184.76L377.19 185.99L377.58 186.01L377.97 186.01L378.37 186.01L378.76 186.01L379.15 186.01L379.54 186.01L379.93 186.01L380.32 186.01L380.71 186.01L381.10 186.01L381.49 186.01L381.88 186.01L382.27 186.01L382.66 186.01L383.05 186.01L383.44 186.01L383.83 185.37L384.22 184.29L384.61 183.21L385.00 182.57L385.39 182.57L385.78 182.57L386.17 182.57L386.56 182.57L386.95 182.57L387.34 182.57L387.73 182.57L388.12 182.57L388.51 182.57L388.90 182.57L389.29 183.07L389.68 184.14L390.07 185.22L390.46 186.01L390.85 186.01L391.24 186.01L391.63 186.01L392.02 186.01L392.41 186.01L392.80 186.01L393.19 186.01L393.58 186.01L393.97 186.01L394.36 186.01L394.75 186.01L395.14 186.01L395.53 186.01L395.92 186.01L396.31 185.21L396.70 184.20L397.09 183.19L397.48 182.77L397.87 182.77L398.26 182.77L398.65 182.77L399.04 182.77L399.43 182.77L399.82 182.77L400.21 182.77L400.60 182.77L400.99 182.77L401.38 182.77L401.77 183.12L402.16 184.14L402.55 185.15L402.94 186.01L403.33 186.01L403.72 186.01L404.11 186.01L404.50 186.01L404.89 186.01L405.28 186.01L405.67 186.01L406.06 186.01L406.45 186.01L406.84 186.01L407.23 186.01L407.62 186.01L408.01 186.01L408.40 186.01L408.79 186.01L409.18 185.61L409.57 184.98L409.96 184.36L410.35 184.01L410.74 184.01L411.13 184.01L411.52 184.00L411.91 183.58L412.30 183.17L412.69 182.75L413.08 182.68L413.47 182.68L413.86 182.68L414.25 182.68L414.64 182.68L415.03 182.68L415.42 182.76L415.81 183.56L416.20 184.35L416.59 185.14L416.98 185.21L417.37 185.21L417.76 185.21L418.15 185.21L418.54 185.21L418.93 185.21L419.32 185.21L419.71 185.21L420.10 185.21L420.49 185.21L420.88 185.21L421.27 184.48L421.66 183.66L422.05 182.85L422.44 182.62L422.83 182.62L423.22 182.62L423.61 182.62L424.00 182.62L424.39 182.62L424.78 182.62L425.17 182.62L425.57 182.62L425.96 182.62L426.35 182.62L426.74 182.62L427.13 182.62L427.52 182.62L427.91 182.81L428.30 183.87L428.69 184.93L429.08 185.99L429.47 186.01L429.86 186.01L430.25 186.01L430.64 186.01L431.03 186.01L431.42 186.01L431.81 186.01L432.20 186.01L432.59 186.01L432.98 186.01L433.37 186.01L433.76 186.01L434.15 185.48L434.54 184.61L434.93 183.75L435.32 183.24L435.71 183.24L436.10 183.24L436.49 183.24L436.88 183.18L437.27 182.61L437.66 182.03L438.05 181.45L438.44 181.39L438.83 181.39L439.22 181.39L439.61 181.39L440.00 181.39L440.39 181.39L440.78 181.39L441.17 181.39L441.56 182.59L441.95 184.03L442.34 185.48L442.73 186.01L443.12 186.01L443.51 186.01L443.90 186.01L444.29 186.01L444.68 186.01L445.07 186.01L445.46 186.01L445.85 186.01L446.24 186.01L446.63 186.01L447.02 186.01L447.41 186.01L447.80 186.01L448.19 186.01L448.58 186.01L448.97 186.01L449.36 185.78L449.75 185.17L450.14 184.57L450.53 184.08L450.92 184.08L451.31 184.08L451.70 183.88L452.09 183.48L452.48 183.08L452.87 182.79L453.26 182.79L453.65 182.79L454.04 182.79L454.43 182.79L454.82 182.79L455.21 183.44L455.60 184.45L455.99 185.45L456.38 186.01L456.77 186.01L457.16 186.01L457.55 186.01L457.94 186.01L458.33 186.01L458.72 186.01L459.11 186.01L459.50 186.01L459.89 186.01L460.28 186.01L460.67 186.01L461.06 186.01L461.45 186.01L461.84 186.01L462.23 186.01L462.62 186.01L463.01 185.46L463.40 184.80L463.79 184.14L464.18 183.89L464.57 183.89L464.96 183.89L465.35 183.89L465.74 183.89L466.13 183.67L466.52 183.23L466.91 182.79L467.30 182.48L467.69 182.48L468.08 182.48L468.47 182.48L468.86 182.48L469.25 182.48L469.64 182.48L470.03 182.48L470.42 182.48L470.81 182.48L471.20 183.33L471.59 184.19L471.99 185.05L472.38 185.21L472.77 185.21L473.16 185.21L473.55 185.21L473.94 185.21L474.33 185.21L474.72 185.21L475.11 185.21L475.50 185.21L475.89 185.21L476.28 185.21L476.67 185.21L477.06 185.21L477.45 184.35L477.84 183.44L478.23 182.52L478.62 182.28L479.01 182.28L479.40 182.28L479.79 182.28L480.18 182.28L480.57 182.28L480.96 182.28L481.35 182.28L481.74 182.28L482.13 182.28L482.52 182.28L482.91 182.28L483.30 182.28L483.69 182.28L484.08 182.28L484.47 182.28L484.86 182.28L485.25 182.28L485.64 182.66L486.03 183.57L486.42 184.49L486.81 185.21L487.20 185.21L487.59 185.21L487.98 185.21L488.37 185.21L488.76 185.21L489.15 185.21L489.54 185.21L489.93 185.21L490.32 185.21L490.71 185.21L491.10 185.21L491.49 185.21L491.88 185.21L492.27 184.51L492.66 183.73L493.05 182.95L493.44 182.71L493.83 182.71L494.22 182.71L494.61 182.71L495.00 182.71L495.39 182.71L495.78 182.71L496.17 182.71L496.56 182.71L496.95 182.71L497.34 182.71L497.73 183.16L498.12 183.95L498.51 184.73L498.90 185.21L499.29 185.21L499.68 185.21L500.07 185.21L500.46 185.21L500.85 185.21L501.24 185.21L501.63 185.21L502.02 185.21L502.41 185.21L502.80 185.21L503.19 185.21L503.58 185.21L503.97 184.59L504.36 183.57L504.75 182.55L505.14 181.95L505.53 181.95L505.92 181.95L506.31 181.95L506.70 181.95L507.09 181.95L507.48 181.95L507.87 181.95L508.26 181.95L508.65 181.95L509.04 181.95L509.43 181.95L509.82 181.95L510.21 181.95L510.60 181.95L510.99 181.95L511.38 181.95L511.77 182.65L512.16 183.67L512.55 184.68L512.94 185.21L513.33 185.21L513.72 185.21L514.11 185.21L514.50 185.21L514.89 185.21L515.28 185.21L515.67 185.21L516.06 185.21L516.45 185.21L516.84 185.21L517.23 185.21L517.62 185.21L518.01 185.21L518.40 185.21L518.79 185.21L519.19 185.10L519.58 184.28L519.97 183.45L520.36 182.63L520.75 182.58L521.14 182.58L521.53 182.58L521.92 182.58L522.31 182.58L522.70 182.58L523.09 182.58L523.48 182.58L523.87 182.58L524.26 182.58L524.65 182.58L525.04 182.58L525.43 182.58L525.82 182.58L526.21 182.58L526.60 182.58L526.99 182.58L527.38 182.58L527.77 183.36L528.16 184.43L528.55 185.50L528.94 186.01L529.33 186.01L529.72 186.01L530.11 186.01L530.50 186.01L530.89 186.01L531.28 186.01L531.67 186.01L532.06 186.01L532.45 186.01L532.84 186.01L533.23 186.01L533.62 185.18L534.01 183.74L534.40 182.30L534.79 181.39L535.18 181.39L535.57 181.39L535.96 181.39L536.35 181.39L536.74 181.39L537.13 181.39L537.52 181.39L537.91 181.39L538.30 181.39L538.69 181.39L539.08 181.39L539.47 181.39L539.86 181.39L540.25 181.39L540.64 181.39L541.03 181.39L541.42 181.80L541.81 183.25L542.20 184.69" fill="none" stroke="#21908d" stroke-width="1.3" stroke-linejoin="round"/>
<path d="M74.10 154.43L74.49 154.43L74.88 154.43L75.27 154.43L75.66 154.43L76.05 154.43L76.44 154.43L76.83 158.54L77.22 158.54L77.61 158.54L78.00 158.54L78.39 158.54L78.78 158.54L79.17 160.63L79.56 160.63L79.95 160.63L80.34 160.63L80.73 160.63L81.12 160.63L81.51 160.63L81.90 161.15L82.29 161.15L82.68 161.15L83.07 161.15L83.46 161.15L83.85 161.15L84.24 161.67L84.63 161.67L85.02 161.67L85.41 161.67L85.80 161.67L86.19 161.67L86.58 162.54L86.97 162.54L87.36 162.54L87.75 162.54L88.14 162.54L88.53 162.54L88.92 162.54L89.31 163.75L89.70 163.75L90.09 163.75L90.48 163.75L90.87 163.75L91.26 163.75L91.65 164.97L92.04 164.97L92.43 164.97L92.82 164.97L93.21 164.97L93.60 164.97L93.99 164.97L94.38 166.63L94.77 166.63L95.16 166.63L95.55 166.63L95.94 166.63L96.33 166.63L96.72 168.61L97.11 168.61L97.50 168.61L97.90 168.61L98.29 168.61L98.68 168.61L99.07 172.29L99.46 172.29L99.85 172.29L100.24 172.29L100.63 172.29L101.02 172.29L101.41 172.29L101.80 175.48L102.19 175.48L102.58 175.48L102.97 175.48L103.36 175.48L103.75 175.48L104.14 178.32L104.53 178.32L104.92 178.32L105.31 178.32L105.70 178.32L106.09 178.32L106.48 178.32L106.87 181.05L107.26 181.05L107.65 181.05L108.04 181.05L108.43 181.05L108.82 181.05L109.21 183.55L109.60 183.55L109.99 183.55L110.38 183.55L110.77 183.55L111.16 183.55L111.55 186.01L111.94 186.01L112.33 186.01L112.72 186.01L113.11 186.01L113.50 186.01L113.89 186.01L114.28 187.66L114.67 187.66L115.06 187.66L115.45 187.66L115.84 187.66L116.23 187.66L116.62 189.31L117.01 189.31L117.40 189.31L117.79 189.31L118.18 189.32L118.57 189.33L118.96 189.18L119.35 190.02L119.74 189.97L120.13 189.93L120.52 189.88L120.91 189.84L121.30 189.80L121.69 190.50L122.08 190.45L122.47 191.21L122.86 191.21L123.25 191.21L123.64 191.21L124.03 191.94L124.42 191.94L124.81 191.94L125.20 191.94L125.59 190.94L125.98 190.94L126.37 190.94L126.76 191.67L127.15 191.67L127.54 191.67L127.93 191.67L128.32 191.67L128.71 191.67L129.10 193.66L129.49 193.66L129.88 193.66L130.27 193.66L130.66 193.66L131.05 193.66L131.44 193.66L131.83 194.01L132.22 194.01L132.61 193.71L133.00 193.71L133.39 193.71L133.78 193.71L134.17 194.06L134.56 194.06L134.95 194.06L135.34 194.06L135.73 194.06L136.12 193.37L136.51 193.73L136.90 193.73L137.29 193.73L137.68 193.73L138.07 193.73L138.46 193.73L138.85 193.73L139.24 194.07L139.63 194.23L140.02 194.23L140.41 194.23L140.80 194.23L141.19 194.23L141.58 194.43L141.97 194.43L142.36 194.43L142.75 195.08L143.14 195.08L143.53 195.08L143.92 195.08L144.31 195.28L144.71 195.28L145.10 195.28L145.49 195.28L145.88 195.28L146.27 194.92L146.66 195.12L147.05 195.12L147.44 195.12L147.83 195.12L148.22 195.12L148.61 195.12L149.00 195.32L149.39 195.32L149.78 195.60L150.17 195.60L150.56 195.60L150.95 195.60L151.34 195.60L151.73 195.66L152.12 195.66L152.51 195.66L152.90 195.66L153.29 194.91L153.68 194.91L154.07 194.97L154.46 194.97L154.85 194.97L155.24 194.97L155.63 194.97L156.02 194.97L156.41 194.97L156.80 195.17L157.19 195.17L157.58 195.17L157.97 195.17L158.36 195.17L158.75 195.17L159.14 195.22L159.53 195.22L159.92 195.82L160.31 195.82L160.70 195.82L161.09 195.82L161.48 195.88L161.87 195.88L162.26 195.88L162.65 195.88L163.04 195.88L163.43 195.35L163.82 195.35L164.21 195.45L164.60 195.45L164.99 195.45L165.38 195.45L165.77 195.45L166.16 195.45L166.55 195.78L166.94 196.14L167.33 196.14L167.72 196.14L168.11 196.14L168.50 196.14L168.89 196.14L169.28 196.47L169.67 196.47L170.06 196.47L170.45 196.33L170.84 196.33L171.23 196.33L171.62 196.46L172.01 196.46L172.40 196.46L172.79 196.46L173.18 196.46L173.57 196.46L173.96 195.97L174.35 195.97L174.74 195.97L175.13 195.97L175.52 195.97L175.91 195.97L176.30 195.97L176.69 195.53L177.08 195.83L177.47 195.83L177.86 195.83L178.25 195.83L178.64 195.83L179.03 195.49L179.42 195.49L179.81 195.49L180.20 195.49L180.59 195.02L180.98 195.02L181.37 195.02L181.76 194.88L182.15 194.88L182.54 194.88L182.93 194.88L183.32 194.88L183.71 194.88L184.10 194.73L184.49 194.73L184.88 194.73L185.27 194.73L185.66 194.73L186.05 194.73L186.44 194.59L186.83 194.59L187.22 194.59L187.61 194.60L188.00 194.60L188.39 194.60L188.78 194.60L189.17 194.47L189.56 194.47L189.95 194.47L190.34 194.47L190.73 194.47L191.12 194.14L191.52 194.01L191.91 194.01L192.30 194.01L192.69 194.01L193.08 194.01L193.47 194.01L193.86 194.01L194.25 194.49L194.64 194.49L195.03 194.49L195.42 194.49L195.81 194.49L196.20 194.49L196.59 194.27L196.98 194.27L197.37 194.27L197.76 194.85L198.15 194.85L198.54 194.85L198.93 194.63L199.32 194.63L199.71 194.63L200.10 194.63L200.49 194.63L200.88 194.63L201.27 194.16L201.66 193.86L202.05 193.86L202.44 193.86L202.83 193.86L203.22 193.86L203.61 193.86L204.00 193.50L204.39 193.50L204.78 193.17L205.17 193.17L205.56 193.17L205.95 193.17L206.34 193.17L206.73 192.82L207.12 192.82L207.51 192.82L207.90 192.82L208.29 192.90L208.68 192.90L209.07 192.54L209.46 192.54L209.85 192.54L210.24 192.54L210.63 192.54L211.02 192.54L211.41 191.92L211.80 191.92L212.19 191.92L212.58 191.92L212.97 191.92L213.36 191.92L213.75 191.92L214.14 191.56L214.53 191.56L214.92 191.45L215.31 191.45L215.70 191.45L216.09 191.45L216.48 191.10L216.87 191.10L217.26 191.10L217.65 191.10L218.04 191.10L218.43 191.54L218.82 191.54L219.21 191.18L219.60 191.18L219.99 191.18L220.38 191.18L220.77 191.18L221.16 191.18L221.55 190.82L221.94 190.82L222.33 190.82L222.72 191.15L223.11 191.45L223.50 191.72L223.89 191.57L224.28 191.71L224.67 191.77L225.06 191.75L225.45 192.06L225.84 191.88L226.23 191.64L226.62 190.98L227.01 190.66L227.40 190.52L227.79 190.52L228.18 190.52L228.57 189.55L228.96 189.19L229.35 189.19L229.74 189.19L230.13 189.19L230.52 189.19L230.91 189.19L231.30 189.19L231.69 188.82L232.08 189.44L232.47 189.44L232.86 189.44L233.25 189.44L233.64 189.44L234.03 189.08L234.42 189.08L234.81 189.08L235.20 189.08L235.59 189.47L235.98 189.57L236.37 189.49L236.76 189.77L237.15 190.02L237.54 190.25L237.94 190.45L238.33 190.61L238.72 190.72L239.11 190.44L239.50 190.47L239.89 190.44L240.28 190.37L240.67 190.25L241.06 190.09L241.45 189.53L241.84 189.30L242.23 189.05L242.62 188.44L243.01 188.15L243.40 188.06L243.79 188.06L244.18 187.69L244.57 187.69L244.96 187.69L245.35 187.69L245.74 186.75L246.13 186.75L246.52 186.51L246.91 186.51L247.30 186.51L247.69 186.51L248.08 186.51L248.47 186.51L248.86 186.44L249.25 186.81L249.64 186.81L250.03 186.81L250.42 186.81L250.81 186.81L251.20 186.81L251.59 186.74L251.98 186.74L252.37 186.74L252.76 187.92L253.15 187.92L253.54 188.09L253.93 188.20L254.32 188.37L254.71 188.51L255.10 188.63L255.49 188.71L255.88 188.75L256.27 188.00L256.66 187.89L257.05 187.82L257.44 187.71L257.83 187.57L258.22 187.41L258.61 187.23L259.00 186.96L259.39 186.95L259.78 186.77L260.17 186.77L260.56 186.77L260.95 186.77L261.34 186.69L261.73 186.69L262.12 186.69L262.51 186.69L262.90 186.52L263.29 186.52L263.68 186.52L264.07 186.45L264.46 186.45L264.85 186.45L265.24 186.45L265.63 186.45L266.02 186.45L266.41 186.51L266.80 186.51L267.19 186.51L267.58 186.51L267.97 186.51L268.36 186.51L268.75 186.51L269.14 186.48L269.53 186.48L269.92 186.95L270.31 186.95L270.70 186.95L271.09 186.95L271.48 186.94L271.87 186.94L272.26 186.94L272.65 186.94L273.04 186.94L273.43 186.43L273.82 186.42L274.21 186.42L274.60 186.42L274.99 186.42L275.38 186.42L275.77 186.62L276.16 186.82L276.55 186.99L276.94 187.59L277.33 187.68L277.72 187.72L278.11 187.71L278.50 187.64L278.89 187.51L279.28 187.35L279.67 187.15L280.06 187.75L280.45 187.66L280.84 187.66L281.23 187.66L281.62 187.65L282.01 187.65L282.40 187.65L282.79 187.65L283.18 187.65L283.57 186.92L283.96 186.91L284.35 186.91L284.75 186.91L285.14 186.91L285.53 186.91L285.92 186.91L286.31 186.90L286.70 186.90L287.09 186.88L287.48 186.88L287.87 186.88L288.26 186.88L288.65 186.88L289.04 186.87L289.43 186.87L289.82 187.03L290.21 187.37L290.60 186.91L290.99 187.19L291.38 187.42L291.77 187.60L292.16 187.73L292.55 187.78L292.94 187.77L293.33 187.69L293.72 187.54L294.11 187.27L294.50 187.01L294.89 186.71L295.28 186.39L295.67 186.04L296.06 186.01L296.45 186.00L296.84 186.00L297.23 187.01L297.62 187.01L298.01 187.01L298.40 187.01L298.79 187.00L299.18 187.00L299.57 187.00L299.96 187.00L300.35 187.00L300.74 186.41L301.13 186.41L301.52 186.41L301.91 186.41L302.30 186.41L302.69 186.41L303.08 186.41L303.47 186.41L303.86 186.41L304.25 186.45L304.64 186.45L305.03 186.45L305.42 186.45L305.81 186.45L306.20 186.45L306.59 186.45L306.98 186.45L307.37 186.45L307.76 187.18L308.15 187.24L308.54 187.48L308.93 187.72L309.32 187.94L309.71 188.12L310.10 188.28L310.49 188.39L310.88 188.46L311.27 188.78L311.66 188.76L312.05 188.69L312.44 188.57L312.83 188.42L313.22 188.23L313.61 188.02L314.00 187.78L314.39 186.60L314.78 186.54L315.17 186.54L315.56 186.54L315.95 186.54L316.34 186.55L316.73 186.55L317.12 186.55L317.51 186.55L317.90 186.44L318.29 186.44L318.68 186.44L319.07 186.44L319.46 186.44L319.85 186.44L320.24 186.44L320.63 186.44L321.02 186.44L321.41 186.79L321.80 186.79L322.19 186.79L322.58 186.79L322.97 186.79L323.36 186.79L323.75 186.79L324.14 186.82L324.53 187.14L324.92 188.46L325.31 188.72L325.70 188.93L326.09 189.08L326.48 189.16L326.87 189.16L327.26 189.08L327.65 188.93L328.04 188.72L328.43 187.17L328.82 186.87L329.21 186.55L329.60 186.52L329.99 186.52L330.38 186.52L330.77 186.52L331.16 186.52L331.56 186.79L331.95 186.79L332.34 186.79L332.73 186.79L333.12 186.79L333.51 186.79L333.90 186.79L334.29 186.79L334.68 186.79L335.07 186.94L335.46 186.94L335.85 186.94L336.24 186.94L336.63 186.94L337.02 186.94L337.41 186.94L337.80 186.94L338.19 186.94L338.58 186.67L338.97 186.67L339.36 186.67L339.75 186.67L340.14 186.67L340.53 186.67L340.92 186.67L341.31 186.67L341.70 186.67L342.09 187.06L342.48 187.06L342.87 187.06L343.26 187.06L343.65 187.06L344.04 187.06L344.43 187.06L344.82 187.06L345.21 187.06L345.60 186.25L345.99 186.25L346.38 186.25L346.77 186.25L347.16 186.25L347.55 186.25L347.94 186.25L348.33 186.25L348.72 186.52L349.11 186.52L349.50 186.52L349.89 186.54L350.28 186.79L350.67 187.03L351.06 187.22L351.45 187.36L351.84 187.43L352.23 187.70L352.62 187.63L353.01 187.49L353.40 187.30L353.79 187.07L354.18 186.81L354.57 186.79L354.96 186.79L355.35 186.79L355.74 186.39L356.13 186.39L356.52 186.39L356.91 186.39L357.30 186.39L357.69 186.39L358.08 186.39L358.47 186.39L358.86 186.39L359.25 186.54L359.64 186.54L360.03 186.54L360.42 186.54L360.81 186.54L361.20 186.55L361.59 186.55L361.98 186.55L362.37 186.55L362.76 187.26L363.15 187.26L363.54 187.26L363.93 187.26L364.32 187.26L364.71 187.26L365.10 187.26L365.49 187.26L365.88 186.60L366.27 186.60L366.66 186.60L367.05 186.60L367.44 186.60L367.83 186.60L368.22 186.60L368.61 186.60L369.00 186.60L369.39 186.75L369.78 186.75L370.17 186.99L370.56 187.32L370.95 187.64L371.34 187.93L371.73 188.19L372.12 188.42L372.51 188.60L372.90 189.35L373.29 189.44L373.68 189.47L374.07 189.45L374.46 189.38L374.85 189.25L375.24 189.08L375.63 188.86L376.02 188.61L376.41 187.80L376.80 187.49L377.19 187.16L377.58 186.85L377.97 186.85L378.37 186.85L378.76 186.85L379.15 186.85L379.54 186.85L379.93 186.34L380.32 186.34L380.71 186.34L381.10 186.34L381.49 186.34L381.88 186.34L382.27 186.34L382.66 186.34L383.05 186.84L383.44 186.84L383.83 186.84L384.22 186.84L384.61 186.84L385.00 186.84L385.39 186.84L385.78 186.84L386.17 186.84L386.56 185.87L386.95 185.87L387.34 185.87L387.73 185.87L388.12 185.87L388.51 185.87L388.90 185.88L389.29 185.88L389.68 185.88L390.07 185.74L390.46 185.74L390.85 185.74L391.24 185.74L391.63 185.74L392.02 185.74L392.41 185.74L392.80 185.74L393.19 185.74L393.58 186.70L393.97 186.70L394.36 186.70L394.75 186.70L395.14 186.70L395.53 187.19L395.92 187.72L396.31 188.16L396.70 188.48L397.09 188.23L397.48 188.22L397.87 188.05L398.26 187.73L398.65 187.28L399.04 186.75L399.43 186.29L399.82 186.29L400.21 185.60L400.60 185.60L400.99 185.60L401.38 185.60L401.77 185.60L402.16 185.60L402.55 185.60L402.94 185.60L403.33 185.60L403.72 186.72L404.11 186.72L404.50 186.72L404.89 186.72L405.28 186.72L405.67 186.72L406.06 186.72L406.45 186.72L406.84 186.72L407.23 186.99L407.62 186.99L408.01 186.99L408.40 186.99L408.79 186.99L409.18 186.99L409.57 186.99L409.96 186.99L410.35 186.99L410.74 186.76L411.13 186.77L411.52 186.77L411.91 186.77L412.30 186.77L412.69 186.77L413.08 186.77L413.47 186.77L413.86 186.77L414.25 187.22L414.64 187.22L415.03 187.22L415.42 187.22L415.81 187.22L416.20 187.22L416.59 187.22L416.98 187.46L417.37 187.83L417.76 188.17L418.15 188.43L418.54 188.61L418.93 188.68L419.32 188.64L419.71 188.49L420.10 188.25L420.49 187.93L420.88 186.81L421.27 186.47L421.66 186.47L422.05 186.47L422.44 186.47L422.83 186.47L423.22 186.47L423.61 186.47L424.00 186.47L424.39 186.77L424.78 186.77L425.17 186.77L425.57 186.77L425.96 186.77L426.35 186.77L426.74 186.77L427.13 186.77L427.52 186.77L427.91 186.46L428.30 186.46L428.69 186.46L429.08 186.46L429.47 186.46L429.86 186.58L430.25 186.89L430.64 187.19L431.03 187.47L431.42 187.61L431.81 187.82L432.20 187.98L432.59 188.10L432.98 188.16L433.37 188.17L433.76 188.12L434.15 188.02L434.54 188.47L434.93 188.27L435.32 188.03L435.71 187.76L436.10 187.46L436.49 187.15L436.88 186.95L437.27 186.95L437.66 186.95L438.05 186.67L438.44 186.67L438.83 186.67L439.22 186.67L439.61 186.67L440.00 186.67L440.39 186.67L440.78 186.67L441.17 186.68L441.56 186.71L441.95 186.71L442.34 186.71L442.73 186.71L443.12 186.71L443.51 186.71L443.90 186.71L444.29 186.71L444.68 186.71L445.07 186.91L445.46 186.91L445.85 186.91L446.24 186.91L446.63 186.91L447.02 186.91L447.41 186.91L447.80 186.91L448.19 186.91L448.58 186.99L448.97 186.99L449.36 186.99L449.75 186.99L450.14 186.99L450.53 186.99L450.92 186.99L451.31 186.99L451.70 186.44L452.09 186.44L452.48 186.44L452.87 186.44L453.26 186.44L453.65 186.44L454.04 186.44L454.43 186.44L454.82 186.44L455.21 186.66L455.60 186.66L455.99 186.74L456.38 186.95L456.77 187.15L457.16 187.33L457.55 187.49L457.94 187.63L458.33 187.73L458.72 187.58L459.11 187.61L459.50 187.61L459.89 187.57L460.28 187.49L460.67 187.38L461.06 187.24L461.45 187.08L461.84 186.89L462.23 186.37L462.62 186.16L463.01 186.12L463.40 186.12L463.79 186.12L464.18 186.12L464.57 186.12L464.96 186.12L465.35 186.12L465.74 186.11L466.13 186.11L466.52 186.11L466.91 186.11L467.30 186.11L467.69 186.11L468.08 186.11L468.47 186.11L468.86 187.13L469.25 187.13L469.64 187.13L470.03 187.13L470.42 187.13L470.81 187.13L471.20 187.14L471.59 187.14L471.99 187.14L472.38 187.01L472.77 187.01L473.16 187.01L473.55 187.01L473.94 187.01L474.33 187.01L474.72 187.01L475.11 187.01L475.50 187.01L475.89 186.73L476.28 186.73L476.67 186.73L477.06 186.73L477.45 186.73L477.84 186.73L478.23 186.73L478.62 186.73L479.01 186.73L479.40 186.55L479.79 186.55L480.18 186.55L480.57 186.55L480.96 186.55L481.35 186.55L481.74 186.64L482.13 186.88L482.52 187.11L482.91 186.91L483.30 187.05L483.69 187.13L484.08 187.16L484.47 187.12L484.86 187.02L485.25 186.87L485.64 186.67L486.03 187.35L486.42 187.11L486.81 187.07L487.20 187.07L487.59 187.07L487.98 187.07L488.37 187.07L488.76 187.08L489.15 187.08L489.54 186.82L489.93 186.82L490.32 186.82L490.71 186.82L491.10 186.83L491.49 186.83L491.88 186.83L492.27 186.83L492.66 186.83L493.05 186.50L493.44 186.50L493.83 186.50L494.22 186.50L494.61 186.50L495.00 186.50L495.39 186.50L495.78 186.50L496.17 186.50L496.56 186.03L496.95 186.03L497.34 186.03L497.73 186.03L498.12 186.03L498.51 186.03L498.90 186.03L499.29 186.03L499.68 186.03L500.07 186.17L500.46 186.41L500.85 186.63L501.24 186.83L501.63 186.99L502.02 187.10L502.41 187.16L502.80 187.17L503.19 188.27L503.58 188.17L503.97 188.03L504.36 187.85L504.75 187.64L505.14 187.40L505.53 187.15L505.92 187.11L506.31 187.11L506.70 186.73L507.09 186.73L507.48 186.73L507.87 186.73L508.26 186.73L508.65 186.73L509.04 186.73L509.43 186.73L509.82 186.73L510.21 187.01L510.60 187.01L510.99 187.02L511.38 187.02L511.77 187.02L512.16 187.02L512.55 187.02L512.94 187.02L513.33 187.02L513.72 186.23L514.11 186.23L514.50 186.23L514.89 186.23L515.28 186.23L515.67 186.23L516.06 186.23L516.45 186.23L516.84 186.23L517.23 186.42L517.62 186.42L518.01 186.42L518.40 186.42L518.79 186.42L519.19 186.42L519.58 186.42L519.97 186.42L520.36 186.81L520.75 186.81L521.14 186.81L521.53 186.81L521.92 186.81L522.31 187.04L522.70 187.25L523.09 187.45L523.48 187.62L523.87 187.88L524.26 187.99L524.65 188.05L525.04 188.07L525.43 188.05L525.82 187.98L526.21 187.88L526.60 187.74L526.99 187.57L527.38 186.93L527.77 186.72L528.16 186.50L528.55 186.50L528.94 186.50L529.33 186.50L529.72 186.50L530.11 186.50L530.50 186.50L530.89 186.17L531.28 186.17L531.67 186.17L532.06 186.17L532.45 186.17L532.84 186.17L533.23 186.17L533.62 186.18L534.01 186.18L534.40 187.01L534.79 187.01L535.18 187.01L535.57 187.01L535.96 187.01L536.35 187.01L536.74 187.01L537.13 187.01L537.52 186.80L537.91 186.80L538.30 186.80L538.69 186.80L539.08 186.80L539.47 186.80L539.86 186.80L540.25 186.80L540.64 186.80L541.03 186.60L541.42 186.60L541.81 186.60L542.20 186.60" fill="none" stroke="#e42474" stroke-width="1.3" stroke-linejoin="round"/>
<rect x="76" y="212" width="100" height="47" fill="#fff"/>
<line x1="81.2" x2="105.2" y1="224.20" y2="224.20" stroke="#12807e" stroke-width="4.6"/>
<text transform="translate(110.7 227.00) scale(0.955 1)" font-family="DejaVu Sans" font-size="9.6" fill="#262626">Aggresive</text>
<line x1="81.2" x2="105.2" y1="237.80" y2="237.80" stroke="#e0066a" stroke-width="4.6"/>
<text transform="translate(110.7 241.00) scale(0.955 1)" font-family="DejaVu Sans" font-size="9.6" fill="#262626">Conservative</text>
<line x1="81.2" x2="105.2" y1="251.40" y2="251.40" stroke="#000" stroke-width="4.6"/>
<text transform="translate(110.7 254.50) scale(0.955 1)" font-family="DejaVu Sans" font-size="9.6" fill="#262626">Outflow</text>
<rect x="74.1" y="138.3" width="468.80" height="128.00" fill="none" stroke="#828282" stroke-width="1.4"/>
<line x1="72.1" x2="74.1" y1="170.70" y2="170.70" stroke="#555" stroke-width="1"/>
<text transform="translate(68.7 175.45) scale(0.886 1)" text-anchor="end" font-family="DejaVu Sans" font-size="11.2" fill="#262626">200</text>
<line x1="72.1" x2="74.1" y1="202.60" y2="202.60" stroke="#555" stroke-width="1"/>
<text transform="translate(68.7 207.35) scale(0.886 1)" text-anchor="end" font-family="DejaVu Sans" font-size="11.2" fill="#262626">0</text>
<line x1="72.1" x2="74.1" y1="234.50" y2="234.50" stroke="#555" stroke-width="1"/>
<text transform="translate(68.7 239.25) scale(0.886 1)" text-anchor="end" font-family="DejaVu Sans" font-size="11.2" fill="#262626">−200</text>
<line x1="74.10" x2="74.10" y1="266.3" y2="268.8" stroke="#555" stroke-width="1"/>
<text transform="translate(73.60 279.6) scale(0.886 1)" text-anchor="middle" font-family="DejaVu Sans" font-size="11.2" fill="#262626">0</text>
<line x1="152.12" x2="152.12" y1="266.3" y2="268.8" stroke="#555" stroke-width="1"/>
<text transform="translate(151.62 279.6) scale(0.886 1)" text-anchor="middle" font-family="DejaVu Sans" font-size="11.2" fill="#262626">5</text>
<line x1="230.13" x2="230.13" y1="266.3" y2="268.8" stroke="#555" stroke-width="1"/>
<text transform="translate(229.63 279.6) scale(0.886 1)" text-anchor="middle" font-family="DejaVu Sans" font-size="11.2" fill="#262626">10</text>
<line x1="308.15" x2="308.15" y1="266.3" y2="268.8" stroke="#555" stroke-width="1"/>
<text transform="translate(307.65 279.6) scale(0.886 1)" text-anchor="middle" font-family="DejaVu Sans" font-size="11.2" fill="#262626">15</text>
<line x1="386.17" x2="386.17" y1="266.3" y2="268.8" stroke="#555" stroke-width="1"/>
<text transform="translate(385.67 279.6) scale(0.886 1)" text-anchor="middle" font-family="DejaVu Sans" font-size="11.2" fill="#262626">20</text>
<line x1="464.18" x2="464.18" y1="266.3" y2="268.8" stroke="#555" stroke-width="1"/>
<text transform="translate(463.68 279.6) scale(0.886 1)" text-anchor="middle" font-family="DejaVu Sans" font-size="11.2" fill="#262626">25</text>
<line x1="542.20" x2="542.20" y1="266.3" y2="268.8" stroke="#555" stroke-width="1"/>
<text transform="translate(541.70 279.6) scale(0.886 1)" text-anchor="middle" font-family="DejaVu Sans" font-size="11.2" fill="#262626">30</text>
<text transform="translate(308.5 293.8) scale(0.975 1)" text-anchor="middle" font-family="DejaVu Sans" font-size="11.1" fill="#262626">Time (min)</text>
<text transform="translate(36.0 204.2) rotate(-90) scale(1 1.06)" text-anchor="middle" font-family="DejaVu Sans" font-size="10.8" fill="#262626">Flow Rate (mL/min)</text>
</g>
<text x="2.6" y="15.4" font-family="Liberation Sans" font-weight="bold" font-size="12.3" fill="#111" stroke="#111" stroke-width="0.3">(A)</text>
<text x="2.6" y="150.9" font-family="Liberation Sans" font-weight="bold" font-size="12.3" fill="#111" stroke="#111" stroke-width="0.3">(B)</text>
<text x="2.5" y="314.6" font-family="Liberation Sans" font-weight="bold" font-size="12.3" fill="#111" stroke="#111" stroke-width="0.3">(C)</text>
<text x="275.5" y="314.6" font-family="Liberation Sans" font-weight="bold" font-size="12.3" fill="#111" stroke="#111" stroke-width="0.3">(D)</text>
<line x1="117.97" x2="117.97" y1="305.3" y2="431.3" stroke="#e3e3e3" stroke-width="1"/>
<line x1="165.35" x2="165.35" y1="305.3" y2="431.3" stroke="#e3e3e3" stroke-width="1"/>
<line x1="212.73" x2="212.73" y1="305.3" y2="431.3" stroke="#e3e3e3" stroke-width="1"/>
<line x1="74.86" x2="76.28" y1="315.30" y2="315.30" stroke="#000" stroke-width="1.4"/>
<line x1="76.28" x2="76.28" y1="312.80" y2="317.80" stroke="#000" stroke-width="1.6"/>
<rect x="70.60" y="310.60" width="3.86" height="9.40" fill="#a0a0a5" stroke="#919196" stroke-width="0.8"/>
<line x1="134.08" x2="153.51" y1="330.43" y2="330.43" stroke="#000" stroke-width="1.4"/>
<line x1="153.51" x2="153.51" y1="327.93" y2="332.93" stroke="#000" stroke-width="1.6"/>
<rect x="70.60" y="326.13" width="62.68" height="8.60" fill="#fff" stroke="#a3a3a6" stroke-width="1.6"/>
<line x1="174.35" x2="175.49" y1="345.56" y2="345.56" stroke="#000" stroke-width="1.4"/>
<line x1="175.49" x2="175.49" y1="343.06" y2="348.06" stroke="#000" stroke-width="1.6"/>
<rect x="70.60" y="340.86" width="103.35" height="9.40" fill="#7e7e80" stroke="#7e7e80" stroke-width="0.8"/>
<line x1="217.46" x2="218.22" y1="360.69" y2="360.69" stroke="#000" stroke-width="1.4"/>
<line x1="218.22" x2="218.22" y1="358.19" y2="363.19" stroke="#000" stroke-width="1.6"/>
<rect x="70.60" y="356.39" width="146.06" height="8.60" fill="#fff" stroke="#7e7e80" stroke-width="1.6"/>
<line x1="97.60" x2="98.36" y1="375.82" y2="375.82" stroke="#000" stroke-width="1.4"/>
<line x1="98.36" x2="98.36" y1="373.32" y2="378.32" stroke="#000" stroke-width="1.6"/>
<rect x="70.60" y="371.12" width="26.60" height="9.40" fill="#5c5c5c" stroke="#555" stroke-width="0.8"/>
<line x1="174.35" x2="175.49" y1="390.95" y2="390.95" stroke="#000" stroke-width="1.4"/>
<line x1="175.49" x2="175.49" y1="388.45" y2="393.45" stroke="#000" stroke-width="1.6"/>
<rect x="70.60" y="386.65" width="102.95" height="8.60" fill="#fff" stroke="#555" stroke-width="1.6"/>
<line x1="118.45" x2="120.82" y1="406.08" y2="406.08" stroke="#000" stroke-width="1.4"/>
<line x1="120.82" x2="120.82" y1="403.58" y2="408.58" stroke="#000" stroke-width="1.6"/>
<rect x="70.60" y="401.38" width="47.45" height="9.40" fill="#000" stroke="#000" stroke-width="0.8"/>
<line x1="171.04" x2="175.30" y1="421.21" y2="421.21" stroke="#000" stroke-width="1.4"/>
<line x1="175.30" x2="175.30" y1="418.71" y2="423.71" stroke="#000" stroke-width="1.6"/>
<rect x="70.60" y="416.91" width="99.64" height="8.60" fill="#fff" stroke="#000" stroke-width="1.6"/>
<path d="M70.6 305.3H260.1V431.3H70.6Z" fill="none" stroke="#1a1a1a" stroke-width="1.45"/>
<line x1="65.30" x2="70.6" y1="315.30" y2="315.30" stroke="#000" stroke-width="1.2"/>
<text transform="translate(63.00 318.20) scale(1 0.87)" text-anchor="end" font-family="Liberation Sans" font-weight="bold" font-size="9.7" fill="#111" stroke="#111" stroke-width="0.35">DT: Agg</text>
<line x1="65.30" x2="70.6" y1="330.43" y2="330.43" stroke="#000" stroke-width="1.2"/>
<text transform="translate(63.00 333.33) scale(1 0.87)" text-anchor="end" font-family="Liberation Sans" font-weight="bold" font-size="9.7" fill="#111" stroke="#111" stroke-width="0.35">DT: Con</text>
<line x1="65.30" x2="70.6" y1="345.56" y2="345.56" stroke="#000" stroke-width="1.2"/>
<text transform="translate(63.00 348.46) scale(1 0.87)" text-anchor="end" font-family="Liberation Sans" font-weight="bold" font-size="9.7" fill="#111" stroke="#111" stroke-width="0.35">SFL: Agg</text>
<line x1="65.30" x2="70.6" y1="360.69" y2="360.69" stroke="#000" stroke-width="1.2"/>
<text transform="translate(63.00 363.59) scale(1 0.87)" text-anchor="end" font-family="Liberation Sans" font-weight="bold" font-size="9.7" fill="#111" stroke="#111" stroke-width="0.35">SFL: Con</text>
<line x1="65.30" x2="70.6" y1="375.82" y2="375.82" stroke="#000" stroke-width="1.2"/>
<text transform="translate(63.00 378.72) scale(1 0.87)" text-anchor="end" font-family="Liberation Sans" font-weight="bold" font-size="9.7" fill="#111" stroke="#111" stroke-width="0.35">DFL: Agg</text>
<line x1="65.30" x2="70.6" y1="390.95" y2="390.95" stroke="#000" stroke-width="1.2"/>
<text transform="translate(63.00 393.85) scale(1 0.87)" text-anchor="end" font-family="Liberation Sans" font-weight="bold" font-size="9.7" fill="#111" stroke="#111" stroke-width="0.35">DFL: Con</text>
<line x1="65.30" x2="70.6" y1="406.08" y2="406.08" stroke="#000" stroke-width="1.2"/>
<text transform="translate(63.00 408.98) scale(1 0.87)" text-anchor="end" font-family="Liberation Sans" font-weight="bold" font-size="9.7" fill="#111" stroke="#111" stroke-width="0.35">PID: Agg</text>
<line x1="65.30" x2="70.6" y1="421.21" y2="421.21" stroke="#000" stroke-width="1.2"/>
<text transform="translate(63.00 424.11) scale(1 0.87)" text-anchor="end" font-family="Liberation Sans" font-weight="bold" font-size="9.7" fill="#111" stroke="#111" stroke-width="0.35">PID: Con</text>
<line x1="70.60" x2="70.60" y1="431.3" y2="436.7" stroke="#000" stroke-width="1.2"/>
<text transform="translate(70.60 447.6) scale(0.9 1)" text-anchor="middle" font-family="Liberation Sans" font-weight="bold" font-size="10.3" fill="#111" stroke="#111" stroke-width="0.25">0</text>
<line x1="117.97" x2="117.97" y1="431.3" y2="436.7" stroke="#000" stroke-width="1.2"/>
<text transform="translate(117.97 447.6) scale(0.9 1)" text-anchor="middle" font-family="Liberation Sans" font-weight="bold" font-size="10.3" fill="#111" stroke="#111" stroke-width="0.25">5</text>
<line x1="165.35" x2="165.35" y1="431.3" y2="436.7" stroke="#000" stroke-width="1.2"/>
<text transform="translate(165.35 447.6) scale(0.9 1)" text-anchor="middle" font-family="Liberation Sans" font-weight="bold" font-size="10.3" fill="#111" stroke="#111" stroke-width="0.25">10</text>
<line x1="212.73" x2="212.73" y1="431.3" y2="436.7" stroke="#000" stroke-width="1.2"/>
<text transform="translate(212.73 447.6) scale(0.9 1)" text-anchor="middle" font-family="Liberation Sans" font-weight="bold" font-size="10.3" fill="#111" stroke="#111" stroke-width="0.25">15</text>
<line x1="260.10" x2="260.10" y1="431.3" y2="436.7" stroke="#000" stroke-width="1.2"/>
<text transform="translate(260.10 447.6) scale(0.9 1)" text-anchor="middle" font-family="Liberation Sans" font-weight="bold" font-size="10.3" fill="#111" stroke="#111" stroke-width="0.25">20</text>
<text x="165.35" y="463.9" text-anchor="middle" font-family="Liberation Sans" font-weight="bold" font-size="10.3" fill="#111" stroke="#111" stroke-width="0.3" xml:space="preserve">% Median Absolute Performance Error</text>
<text x="165.35" y="476.2" text-anchor="middle" font-family="Liberation Sans" font-weight="bold" font-size="10.3" fill="#111" stroke="#111" stroke-width="0.3" xml:space="preserve">at Stead-State</text>
<line x1="407.53" x2="407.53" y1="305.3" y2="431.3" stroke="#e3e3e3" stroke-width="1"/>
<line x1="470.87" x2="470.87" y1="305.3" y2="431.3" stroke="#e3e3e3" stroke-width="1"/>
<line x1="464.66" x2="466.43" y1="315.30" y2="315.30" stroke="#000" stroke-width="1.4"/>
<line x1="466.43" x2="466.43" y1="312.80" y2="317.80" stroke="#000" stroke-width="1.6"/>
<rect x="344.20" y="310.60" width="120.06" height="9.40" fill="#a0a0a5" stroke="#919196" stroke-width="0.8"/>
<line x1="434.01" x2="454.02" y1="330.43" y2="330.43" stroke="#000" stroke-width="1.4"/>
<line x1="454.02" x2="454.02" y1="327.93" y2="332.93" stroke="#000" stroke-width="1.6"/>
<rect x="344.20" y="326.13" width="89.01" height="8.60" fill="#fff" stroke="#a3a3a6" stroke-width="1.6"/>
<line x1="362.82" x2="369.15" y1="345.56" y2="345.56" stroke="#000" stroke-width="1.4"/>
<line x1="369.15" x2="369.15" y1="343.06" y2="348.06" stroke="#000" stroke-width="1.6"/>
<rect x="344.20" y="340.86" width="18.22" height="9.40" fill="#7e7e80" stroke="#7e7e80" stroke-width="0.8"/>
<line x1="462.89" x2="465.29" y1="375.82" y2="375.82" stroke="#000" stroke-width="1.4"/>
<line x1="465.29" x2="465.29" y1="373.32" y2="378.32" stroke="#000" stroke-width="1.6"/>
<rect x="344.20" y="371.12" width="118.29" height="9.40" fill="#5c5c5c" stroke="#555" stroke-width="0.8"/>
<line x1="362.31" x2="369.28" y1="390.95" y2="390.95" stroke="#000" stroke-width="1.4"/>
<line x1="369.28" x2="369.28" y1="388.45" y2="393.45" stroke="#000" stroke-width="1.6"/>
<rect x="344.20" y="386.65" width="17.31" height="8.60" fill="#fff" stroke="#555" stroke-width="1.6"/>
<line x1="458.71" x2="462.63" y1="406.08" y2="406.08" stroke="#000" stroke-width="1.4"/>
<line x1="462.63" x2="462.63" y1="403.58" y2="408.58" stroke="#000" stroke-width="1.6"/>
<rect x="344.20" y="401.38" width="114.11" height="9.40" fill="#000" stroke="#000" stroke-width="0.8"/>
<line x1="361.68" x2="377.39" y1="421.21" y2="421.21" stroke="#000" stroke-width="1.4"/>
<line x1="377.39" x2="377.39" y1="418.71" y2="423.71" stroke="#000" stroke-width="1.6"/>
<rect x="344.20" y="416.91" width="16.68" height="8.60" fill="#fff" stroke="#000" stroke-width="1.6"/>
<path d="M344.2 305.3H534.2V431.3H344.2Z" fill="none" stroke="#1a1a1a" stroke-width="1.45"/>
<line x1="338.90" x2="344.2" y1="315.30" y2="315.30" stroke="#000" stroke-width="1.2"/>
<text transform="translate(336.60 318.20) scale(1 0.87)" text-anchor="end" font-family="Liberation Sans" font-weight="bold" font-size="9.7" fill="#111" stroke="#111" stroke-width="0.35">DT: Agg</text>
<line x1="338.90" x2="344.2" y1="330.43" y2="330.43" stroke="#000" stroke-width="1.2"/>
<text transform="translate(336.60 333.33) scale(1 0.87)" text-anchor="end" font-family="Liberation Sans" font-weight="bold" font-size="9.7" fill="#111" stroke="#111" stroke-width="0.35">DT: Con</text>
<line x1="338.90" x2="344.2" y1="345.56" y2="345.56" stroke="#000" stroke-width="1.2"/>
<text transform="translate(336.60 348.46) scale(1 0.87)" text-anchor="end" font-family="Liberation Sans" font-weight="bold" font-size="9.7" fill="#111" stroke="#111" stroke-width="0.35">SFL: Agg</text>
<line x1="338.90" x2="344.2" y1="360.69" y2="360.69" stroke="#000" stroke-width="1.2"/>
<text transform="translate(336.60 363.59) scale(1 0.87)" text-anchor="end" font-family="Liberation Sans" font-weight="bold" font-size="9.7" fill="#111" stroke="#111" stroke-width="0.35">SFL: Con</text>
<line x1="338.90" x2="344.2" y1="375.82" y2="375.82" stroke="#000" stroke-width="1.2"/>
<text transform="translate(336.60 378.72) scale(1 0.87)" text-anchor="end" font-family="Liberation Sans" font-weight="bold" font-size="9.7" fill="#111" stroke="#111" stroke-width="0.35">DFL: Agg</text>
<line x1="338.90" x2="344.2" y1="390.95" y2="390.95" stroke="#000" stroke-width="1.2"/>
<text transform="translate(336.60 393.85) scale(1 0.87)" text-anchor="end" font-family="Liberation Sans" font-weight="bold" font-size="9.7" fill="#111" stroke="#111" stroke-width="0.35">DFL: Con</text>
<line x1="338.90" x2="344.2" y1="406.08" y2="406.08" stroke="#000" stroke-width="1.2"/>
<text transform="translate(336.60 408.98) scale(1 0.87)" text-anchor="end" font-family="Liberation Sans" font-weight="bold" font-size="9.7" fill="#111" stroke="#111" stroke-width="0.35">PID: Agg</text>
<line x1="338.90" x2="344.2" y1="421.21" y2="421.21" stroke="#000" stroke-width="1.2"/>
<text transform="translate(336.60 424.11) scale(1 0.87)" text-anchor="end" font-family="Liberation Sans" font-weight="bold" font-size="9.7" fill="#111" stroke="#111" stroke-width="0.35">PID: Con</text>
<line x1="344.20" x2="344.20" y1="431.3" y2="436.7" stroke="#000" stroke-width="1.2"/>
<text transform="translate(344.20 447.6) scale(0.9 1)" text-anchor="middle" font-family="Liberation Sans" font-weight="bold" font-size="10.3" fill="#111" stroke="#111" stroke-width="0.25">0</text>
<line x1="407.53" x2="407.53" y1="431.3" y2="436.7" stroke="#000" stroke-width="1.2"/>
<text transform="translate(407.53 447.6) scale(0.9 1)" text-anchor="middle" font-family="Liberation Sans" font-weight="bold" font-size="10.3" fill="#111" stroke="#111" stroke-width="0.25">50</text>
<line x1="470.87" x2="470.87" y1="431.3" y2="436.7" stroke="#000" stroke-width="1.2"/>
<text transform="translate(470.87 447.6) scale(0.9 1)" text-anchor="middle" font-family="Liberation Sans" font-weight="bold" font-size="10.3" fill="#111" stroke="#111" stroke-width="0.25">100</text>
<line x1="534.20" x2="534.20" y1="431.3" y2="436.7" stroke="#000" stroke-width="1.2"/>
<text transform="translate(534.20 447.6) scale(0.9 1)" text-anchor="middle" font-family="Liberation Sans" font-weight="bold" font-size="10.3" fill="#111" stroke="#111" stroke-width="0.25">150</text>
<text x="439.20" y="463.9" text-anchor="middle" font-family="Liberation Sans" font-weight="bold" font-size="10.3" fill="#111" stroke="#111" stroke-width="0.3" xml:space="preserve">%  Effectiveness</text>
</svg>
</body></html>
